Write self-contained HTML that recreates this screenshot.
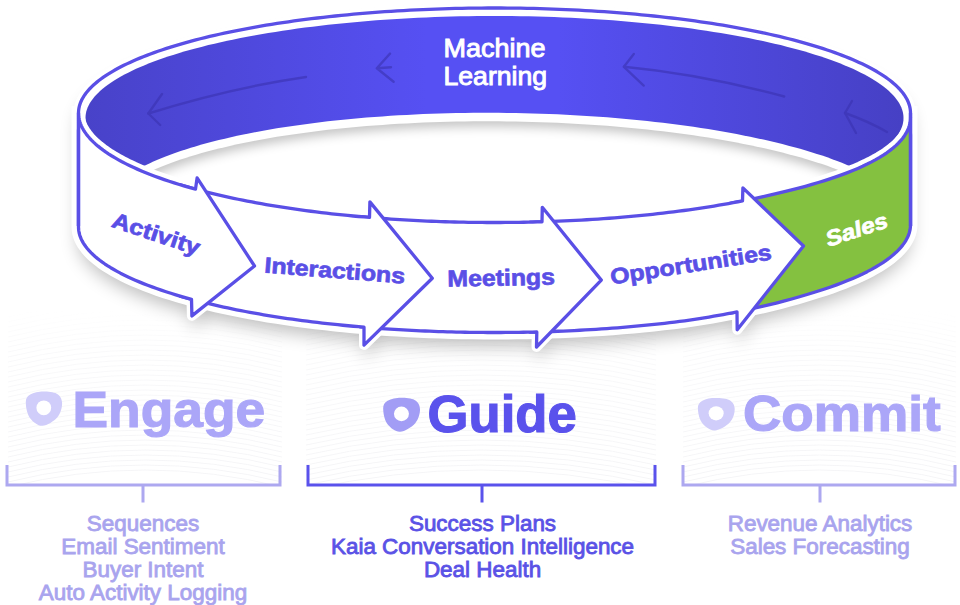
<!DOCTYPE html>
<html><head><meta charset="utf-8"><style>
html,body{margin:0;padding:0;background:#fff;width:960px;height:605px;overflow:hidden;position:relative}
</style></head><body>
<svg width="960" height="605" viewBox="0 0 960 605" style="position:absolute;left:0;top:0">
<defs>
 <linearGradient id="bg" x1="80" x2="905" y1="0" y2="0" gradientUnits="userSpaceOnUse">
  <stop offset="0" stop-color="#4842c8"/>
  <stop offset="0.42" stop-color="#5650f3"/>
  <stop offset="0.58" stop-color="#5650f3"/>
  <stop offset="1" stop-color="#4640c4"/>
 </linearGradient>
 <clipPath id="cin"><path d="M903.50,118.00 L903.41,120.14 L903.14,122.27 L902.69,124.40 L902.07,126.54 L901.26,128.66 L900.27,130.78 L899.11,132.90 L897.77,135.01 L896.26,137.11 L894.56,139.21 L892.69,141.29 L890.65,143.37 L888.43,145.43 L886.04,147.48 L883.48,149.52 L880.75,151.54 L877.85,153.55 L874.78,155.55 L871.54,157.53 L868.14,159.49 L864.57,161.43 L860.85,163.35 L856.96,165.26 L852.91,167.14 L848.70,169.00 L844.34,170.84 L839.83,172.65 L835.16,174.45 L830.35,176.21 L825.39,177.95 L820.28,179.67 L815.03,181.36 L809.64,183.02 L804.11,184.65 L798.45,186.25 L792.65,187.82 L786.72,189.37 L780.66,190.88 L774.48,192.35 L768.17,193.80 L761.75,195.21 L755.21,196.59 L748.55,197.94 L741.78,199.25 L734.90,200.52 L727.92,201.76 L720.84,202.96 L713.65,204.12 L706.37,205.25 L699.00,206.33 L691.54,207.38 L683.99,208.39 L676.36,209.36 L668.64,210.29 L660.86,211.18 L652.99,212.03 L645.06,212.84 L637.07,213.60 L629.01,214.33 L620.89,215.01 L612.71,215.65 L604.49,216.24 L596.21,216.80 L587.90,217.31 L579.54,217.77 L571.14,218.19 L562.71,218.57 L554.25,218.91 L545.76,219.20 L537.25,219.44 L528.72,219.64 L520.18,219.80 L511.63,219.91 L503.07,219.98 L494.50,220.00 L485.93,219.98 L477.37,219.91 L468.82,219.80 L460.28,219.64 L451.75,219.44 L443.24,219.20 L434.75,218.91 L426.29,218.57 L417.86,218.19 L409.46,217.77 L401.10,217.31 L392.79,216.80 L384.51,216.24 L376.29,215.65 L368.11,215.01 L359.99,214.33 L351.93,213.60 L343.94,212.84 L336.01,212.03 L328.14,211.18 L320.36,210.29 L312.64,209.36 L305.01,208.39 L297.46,207.38 L290.00,206.33 L282.63,205.25 L275.35,204.12 L268.16,202.96 L261.08,201.76 L254.10,200.52 L247.22,199.25 L240.45,197.94 L233.79,196.59 L227.25,195.21 L220.83,193.80 L214.52,192.35 L208.34,190.88 L202.28,189.37 L196.35,187.82 L190.55,186.25 L184.89,184.65 L179.36,183.02 L173.97,181.36 L168.72,179.67 L163.61,177.95 L158.65,176.21 L153.84,174.45 L149.17,172.65 L144.66,170.84 L140.30,169.00 L136.09,167.14 L132.04,165.26 L128.15,163.35 L124.43,161.43 L120.86,159.49 L117.46,157.53 L114.22,155.55 L111.15,153.55 L108.25,151.54 L105.52,149.52 L102.96,147.48 L100.57,145.43 L98.35,143.37 L96.31,141.29 L94.44,139.21 L92.74,137.11 L91.23,135.01 L89.89,132.90 L88.73,130.78 L87.74,128.66 L86.93,126.54 L86.31,124.40 L85.86,122.27 L85.59,120.14 L85.50,118.00 L85.59,115.86 L85.86,113.73 L86.31,111.60 L86.93,109.46 L87.74,107.34 L88.73,105.22 L89.89,103.10 L91.23,100.99 L92.74,98.89 L94.44,96.79 L96.31,94.71 L98.35,92.63 L100.57,90.57 L102.96,88.52 L105.52,86.48 L108.25,84.46 L111.15,82.45 L114.22,80.45 L117.46,78.47 L120.86,76.51 L124.43,74.57 L128.15,72.65 L132.04,70.74 L136.09,68.86 L140.30,67.00 L144.66,65.16 L149.17,63.35 L153.84,61.55 L158.65,59.79 L163.61,58.05 L168.72,56.33 L173.97,54.64 L179.36,52.98 L184.89,51.35 L190.55,49.75 L196.35,48.18 L202.28,46.63 L208.34,45.12 L214.52,43.65 L220.83,42.20 L227.25,40.79 L233.79,39.41 L240.45,38.06 L247.22,36.75 L254.10,35.48 L261.08,34.24 L268.16,33.04 L275.35,31.88 L282.63,30.75 L290.00,29.67 L297.46,28.62 L305.01,27.61 L312.64,26.64 L320.36,25.71 L328.14,24.82 L336.01,23.97 L343.94,23.16 L351.93,22.40 L359.99,21.67 L368.11,20.99 L376.29,20.35 L384.51,19.76 L392.79,19.20 L401.10,18.69 L409.46,18.23 L417.86,17.81 L426.29,17.43 L434.75,17.09 L443.24,16.80 L451.75,16.56 L460.28,16.36 L468.82,16.20 L477.37,16.09 L485.93,16.02 L494.50,16.00 L503.07,16.02 L511.63,16.09 L520.18,16.20 L528.72,16.36 L537.25,16.56 L545.76,16.80 L554.25,17.09 L562.71,17.43 L571.14,17.81 L579.54,18.23 L587.90,18.69 L596.21,19.20 L604.49,19.76 L612.71,20.35 L620.89,20.99 L629.01,21.67 L637.07,22.40 L645.06,23.16 L652.99,23.97 L660.86,24.82 L668.64,25.71 L676.36,26.64 L683.99,27.61 L691.54,28.62 L699.00,29.67 L706.37,30.75 L713.65,31.88 L720.84,33.04 L727.92,34.24 L734.90,35.48 L741.78,36.75 L748.55,38.06 L755.21,39.41 L761.75,40.79 L768.17,42.20 L774.48,43.65 L780.66,45.12 L786.72,46.63 L792.65,48.18 L798.45,49.75 L804.11,51.35 L809.64,52.98 L815.03,54.64 L820.28,56.33 L825.39,58.05 L830.35,59.79 L835.16,61.55 L839.83,63.35 L844.34,65.16 L848.70,67.00 L852.91,68.86 L856.96,70.74 L860.85,72.65 L864.57,74.57 L868.14,76.51 L871.54,78.47 L874.78,80.45 L877.85,82.45 L880.75,84.46 L883.48,86.48 L886.04,88.52 L888.43,90.57 L890.65,92.63 L892.69,94.71 L894.56,96.79 L896.26,98.89 L897.77,100.99 L899.11,103.10 L900.27,105.22 L901.26,107.34 L902.07,109.46 L902.69,111.60 L903.14,113.73 L903.41,115.86 L903.50,118.00 Z"/></clipPath>
 <clipPath id="cfl"><path d="M908.47,228.79 L908.35,230.93 L908.06,233.07 L907.59,235.21 L906.95,237.34 L906.13,239.47 L905.13,241.59 L903.96,243.70 L902.62,245.80 L901.10,247.89 L899.40,249.97 L897.54,252.04 L895.50,254.10 L893.29,256.14 L890.91,258.17 L888.36,260.19 L885.65,262.19 L882.77,264.17 L879.72,266.13 L876.51,268.08 L873.13,270.01 L869.60,271.91 L865.90,273.80 L862.05,275.66 L858.04,277.50 L853.87,279.32 L849.56,281.11 L845.09,282.88 L840.47,284.62 L835.71,286.34 L830.80,288.02 L825.75,289.68 L820.56,291.31 L815.23,292.91 L809.77,294.48 L804.17,296.02 L798.44,297.53 L792.58,299.01 L786.60,300.45 L780.49,301.86 L774.26,303.23 L767.92,304.57 L761.46,305.88 L754.88,307.14 L748.20,308.38 L741.42,309.57 L734.52,310.73 L727.53,311.85 L720.44,312.93 L713.26,313.97 L705.99,314.97 L698.62,315.93 L691.18,316.85 L683.65,317.73 L676.04,318.57 L668.36,319.37 L660.61,320.13 L652.79,320.84 L644.90,321.51 L636.96,322.14 L628.96,322.72 L620.90,323.26 L612.79,323.76 L604.64,324.22 L596.44,324.63 L588.20,324.99 L579.92,325.31 L571.62,325.59 L563.28,325.82 L554.92,326.01 L546.54,326.15 L538.14,326.25 L529.72,326.30 L521.30,326.31 L512.87,326.27 L504.43,326.19 L496.00,326.07 L487.57,325.89 L479.14,325.68 L470.73,325.42 L462.34,325.11 L453.96,324.76 L445.61,324.36 L437.28,323.93 L428.98,323.44 L420.72,322.92 L412.49,322.35 L404.31,321.73 L396.17,321.08 L388.07,320.38 L380.03,319.64 L372.04,318.86 L364.12,318.03 L356.25,317.16 L348.45,316.26 L340.72,315.31 L333.06,314.32 L325.48,313.29 L317.97,312.23 L310.55,311.12 L303.22,309.98 L295.97,308.80 L288.81,307.58 L281.75,306.32 L274.79,305.03 L267.93,303.70 L261.18,302.34 L254.53,300.94 L247.99,299.51 L241.56,298.05 L235.25,296.55 L229.06,295.02 L222.99,293.46 L217.04,291.87 L211.23,290.25 L205.54,288.60 L199.98,286.93 L194.55,285.22 L189.26,283.49 L184.12,281.73 L179.11,279.95 L174.24,278.14 L169.52,276.31 L164.95,274.45 L160.53,272.57 L156.26,270.67 L152.14,268.75 L148.18,266.81 L144.37,264.86 L140.72,262.88 L137.24,260.89 L133.91,258.88 L130.75,256.85 L127.75,254.81 L124.92,252.76 L122.25,250.69 L119.75,248.62 L117.43,246.53 L115.27,244.43 L113.28,242.32 L111.47,240.21 L109.83,238.08 L108.36,235.95 L107.07,233.82 L105.95,231.68 L105.00,229.54 L104.24,227.39 L103.65,225.25 L103.23,223.10 L102.99,220.95 L102.93,218.81 L103.05,216.67 L103.34,214.53 L103.81,212.39 L104.45,210.26 L105.27,208.13 L106.27,206.01 L107.44,203.90 L108.78,201.80 L110.30,199.71 L112.00,197.63 L113.86,195.56 L115.90,193.50 L118.11,191.46 L120.49,189.43 L123.04,187.41 L125.75,185.41 L128.63,183.43 L131.68,181.47 L134.89,179.52 L138.27,177.59 L141.80,175.69 L145.50,173.80 L149.35,171.94 L153.36,170.10 L157.53,168.28 L161.84,166.49 L166.31,164.72 L170.93,162.98 L175.69,161.26 L180.60,159.58 L185.65,157.92 L190.84,156.29 L196.17,154.69 L201.63,153.12 L207.23,151.58 L212.96,150.07 L218.82,148.59 L224.80,147.15 L230.91,145.74 L237.14,144.37 L243.48,143.03 L249.94,141.72 L256.52,140.46 L263.20,139.22 L269.98,138.03 L276.88,136.87 L283.87,135.75 L290.96,134.67 L298.14,133.63 L305.41,132.63 L312.78,131.67 L320.22,130.75 L327.75,129.87 L335.36,129.03 L343.04,128.23 L350.79,127.47 L358.61,126.76 L366.50,126.09 L374.44,125.46 L382.44,124.88 L390.50,124.34 L398.61,123.84 L406.76,123.38 L414.96,122.97 L423.20,122.61 L431.48,122.29 L439.78,122.01 L448.12,121.78 L456.48,121.59 L464.86,121.45 L473.26,121.35 L481.68,121.30 L490.10,121.29 L498.53,121.33 L506.97,121.41 L515.40,121.53 L523.83,121.71 L532.26,121.92 L540.67,122.18 L549.06,122.49 L557.44,122.84 L565.79,123.24 L574.12,123.67 L582.42,124.16 L590.68,124.68 L598.91,125.25 L607.09,125.87 L615.23,126.52 L623.33,127.22 L631.37,127.96 L639.36,128.74 L647.28,129.57 L655.15,130.44 L662.95,131.34 L670.68,132.29 L678.34,133.28 L685.92,134.31 L693.43,135.37 L700.85,136.48 L708.18,137.62 L715.43,138.80 L722.59,140.02 L729.65,141.28 L736.61,142.57 L743.47,143.90 L750.22,145.26 L756.87,146.66 L763.41,148.09 L769.84,149.55 L776.15,151.05 L782.34,152.58 L788.41,154.14 L794.36,155.73 L800.17,157.35 L805.86,159.00 L811.42,160.67 L816.85,162.38 L822.14,164.11 L827.28,165.87 L832.29,167.65 L837.16,169.46 L841.88,171.29 L846.45,173.15 L850.87,175.03 L855.14,176.93 L859.26,178.85 L863.22,180.79 L867.03,182.74 L870.68,184.72 L874.16,186.71 L877.49,188.72 L880.65,190.75 L883.65,192.79 L886.48,194.84 L889.15,196.91 L891.65,198.98 L893.97,201.07 L896.13,203.17 L898.12,205.28 L899.93,207.39 L901.57,209.52 L903.04,211.65 L904.33,213.78 L905.45,215.92 L906.40,218.06 L907.16,220.21 L907.75,222.35 L908.17,224.50 L908.41,226.65 L908.47,228.79 Z"/></clipPath>
 <filter id="blur9" x="-20%" y="-50%" width="140%" height="200%"><feGaussianBlur stdDeviation="9"/></filter>
 <filter id="blur7" x="-20%" y="-50%" width="140%" height="200%"><feGaussianBlur stdDeviation="7"/></filter>
 <filter id="blur6" x="-20%" y="-50%" width="140%" height="200%"><feGaussianBlur stdDeviation="6"/></filter>
 <filter id="blur5" x="-20%" y="-50%" width="140%" height="200%"><feGaussianBlur stdDeviation="5"/></filter>
 <filter id="blur4" x="-20%" y="-50%" width="140%" height="200%"><feGaussianBlur stdDeviation="4"/></filter>
 <filter id="blur3" x="-20%" y="-50%" width="140%" height="200%"><feGaussianBlur stdDeviation="3"/></filter>
</defs>
<defs><linearGradient id="pg" x1="0" x2="0" y1="310" y2="480" gradientUnits="userSpaceOnUse"><stop offset="0" stop-color="#fff" stop-opacity="0"/><stop offset="0.25" stop-color="#fff" stop-opacity="0.6"/><stop offset="1" stop-color="#fff" stop-opacity="1"/></linearGradient><mask id="pm" maskUnits="userSpaceOnUse" x="0" y="300" width="960" height="190"><rect x="0" y="300" width="960" height="184" fill="url(#pg)"/></mask></defs><g mask="url(#pm)"><g stroke="#f5f5f7" stroke-width="1" fill="none"><path d="M8,317.0 Q145.0,283.0 282,317.0"/><path d="M8,322.0 Q145.0,288.0 282,322.0"/><path d="M8,327.0 Q145.0,293.0 282,327.0"/><path d="M8,332.0 Q145.0,298.0 282,332.0"/><path d="M8,337.0 Q145.0,303.0 282,337.0"/><path d="M8,342.0 Q145.0,308.0 282,342.0"/><path d="M8,347.0 Q145.0,313.0 282,347.0"/><path d="M8,352.0 Q145.0,318.0 282,352.0"/><path d="M8,357.0 Q145.0,323.0 282,357.0"/><path d="M8,362.0 Q145.0,328.0 282,362.0"/><path d="M8,367.0 Q145.0,333.0 282,367.0"/><path d="M8,372.0 Q145.0,338.0 282,372.0"/><path d="M8,377.0 Q145.0,343.0 282,377.0"/><path d="M8,382.0 Q145.0,348.0 282,382.0"/><path d="M8,387.0 Q145.0,353.0 282,387.0"/><path d="M8,392.0 Q145.0,358.0 282,392.0"/><path d="M8,397.0 Q145.0,363.0 282,397.0"/><path d="M8,402.0 Q145.0,368.0 282,402.0"/><path d="M8,407.0 Q145.0,373.0 282,407.0"/><path d="M8,412.0 Q145.0,378.0 282,412.0"/><path d="M8,417.0 Q145.0,383.0 282,417.0"/><path d="M8,422.0 Q145.0,388.0 282,422.0"/><path d="M8,427.0 Q145.0,393.0 282,427.0"/><path d="M8,432.0 Q145.0,398.0 282,432.0"/><path d="M8,437.0 Q145.0,403.0 282,437.0"/><path d="M8,442.0 Q145.0,408.0 282,442.0"/><path d="M8,447.0 Q145.0,413.0 282,447.0"/><path d="M8,452.0 Q145.0,418.0 282,452.0"/><path d="M8,457.0 Q145.0,423.0 282,457.0"/><path d="M8,462.0 Q145.0,428.0 282,462.0"/><path d="M8,467.0 Q145.0,433.0 282,467.0"/><path d="M8,472.0 Q145.0,438.0 282,472.0"/><path d="M8,477.0 Q145.0,443.0 282,477.0"/><path d="M8,482.0 Q145.0,448.0 282,482.0"/><path d="M8,487.0 Q145.0,453.0 282,487.0"/></g><g stroke="#f5f5f7" stroke-width="1" fill="none"><path d="M306,320.0 Q481.0,280.0 656,320.0"/><path d="M306,325.0 Q481.0,285.0 656,325.0"/><path d="M306,330.0 Q481.0,290.0 656,330.0"/><path d="M306,335.0 Q481.0,295.0 656,335.0"/><path d="M306,340.0 Q481.0,300.0 656,340.0"/><path d="M306,345.0 Q481.0,305.0 656,345.0"/><path d="M306,350.0 Q481.0,310.0 656,350.0"/><path d="M306,355.0 Q481.0,315.0 656,355.0"/><path d="M306,360.0 Q481.0,320.0 656,360.0"/><path d="M306,365.0 Q481.0,325.0 656,365.0"/><path d="M306,370.0 Q481.0,330.0 656,370.0"/><path d="M306,375.0 Q481.0,335.0 656,375.0"/><path d="M306,380.0 Q481.0,340.0 656,380.0"/><path d="M306,385.0 Q481.0,345.0 656,385.0"/><path d="M306,390.0 Q481.0,350.0 656,390.0"/><path d="M306,395.0 Q481.0,355.0 656,395.0"/><path d="M306,400.0 Q481.0,360.0 656,400.0"/><path d="M306,405.0 Q481.0,365.0 656,405.0"/><path d="M306,410.0 Q481.0,370.0 656,410.0"/><path d="M306,415.0 Q481.0,375.0 656,415.0"/><path d="M306,420.0 Q481.0,380.0 656,420.0"/><path d="M306,425.0 Q481.0,385.0 656,425.0"/><path d="M306,430.0 Q481.0,390.0 656,430.0"/><path d="M306,435.0 Q481.0,395.0 656,435.0"/><path d="M306,440.0 Q481.0,400.0 656,440.0"/><path d="M306,445.0 Q481.0,405.0 656,445.0"/><path d="M306,450.0 Q481.0,410.0 656,450.0"/><path d="M306,455.0 Q481.0,415.0 656,455.0"/><path d="M306,460.0 Q481.0,420.0 656,460.0"/><path d="M306,465.0 Q481.0,425.0 656,465.0"/><path d="M306,470.0 Q481.0,430.0 656,470.0"/><path d="M306,475.0 Q481.0,435.0 656,475.0"/><path d="M306,480.0 Q481.0,440.0 656,480.0"/><path d="M306,485.0 Q481.0,445.0 656,485.0"/><path d="M306,490.0 Q481.0,450.0 656,490.0"/></g><g stroke="#f5f5f7" stroke-width="1" fill="none"><path d="M683,317.0 Q819.5,283.0 956,317.0"/><path d="M683,322.0 Q819.5,288.0 956,322.0"/><path d="M683,327.0 Q819.5,293.0 956,327.0"/><path d="M683,332.0 Q819.5,298.0 956,332.0"/><path d="M683,337.0 Q819.5,303.0 956,337.0"/><path d="M683,342.0 Q819.5,308.0 956,342.0"/><path d="M683,347.0 Q819.5,313.0 956,347.0"/><path d="M683,352.0 Q819.5,318.0 956,352.0"/><path d="M683,357.0 Q819.5,323.0 956,357.0"/><path d="M683,362.0 Q819.5,328.0 956,362.0"/><path d="M683,367.0 Q819.5,333.0 956,367.0"/><path d="M683,372.0 Q819.5,338.0 956,372.0"/><path d="M683,377.0 Q819.5,343.0 956,377.0"/><path d="M683,382.0 Q819.5,348.0 956,382.0"/><path d="M683,387.0 Q819.5,353.0 956,387.0"/><path d="M683,392.0 Q819.5,358.0 956,392.0"/><path d="M683,397.0 Q819.5,363.0 956,397.0"/><path d="M683,402.0 Q819.5,368.0 956,402.0"/><path d="M683,407.0 Q819.5,373.0 956,407.0"/><path d="M683,412.0 Q819.5,378.0 956,412.0"/><path d="M683,417.0 Q819.5,383.0 956,417.0"/><path d="M683,422.0 Q819.5,388.0 956,422.0"/><path d="M683,427.0 Q819.5,393.0 956,427.0"/><path d="M683,432.0 Q819.5,398.0 956,432.0"/><path d="M683,437.0 Q819.5,403.0 956,437.0"/><path d="M683,442.0 Q819.5,408.0 956,442.0"/><path d="M683,447.0 Q819.5,413.0 956,447.0"/><path d="M683,452.0 Q819.5,418.0 956,452.0"/><path d="M683,457.0 Q819.5,423.0 956,457.0"/><path d="M683,462.0 Q819.5,428.0 956,462.0"/><path d="M683,467.0 Q819.5,433.0 956,467.0"/><path d="M683,472.0 Q819.5,438.0 956,472.0"/><path d="M683,477.0 Q819.5,443.0 956,477.0"/><path d="M683,482.0 Q819.5,448.0 956,482.0"/><path d="M683,487.0 Q819.5,453.0 956,487.0"/></g></g><text id="t_Engage" transform="translate(72.5,426.7) scale(1.067,1)" font-family="Liberation Sans" font-weight="bold" font-size="50" fill="#aba6f8" stroke="#aba6f8" stroke-width="1.1">Engage</text><text id="t_Guide" transform="translate(427.5,432.2) scale(1.033,1)" font-family="Liberation Sans" font-weight="bold" font-size="51" fill="#5a52ec" stroke="#5a52ec" stroke-width="1.1">Guide</text><text id="t_Commit" transform="translate(743,431.3) scale(1.063,1)" font-family="Liberation Sans" font-weight="bold" font-size="50" fill="#aba6f8" stroke="#aba6f8" stroke-width="1.1">Commit</text><g transform="translate(25.9,391.7) scale(1.000,1.000)"><path d="M0.0,13.1 C-0.3,9.4 -0.1,6.6 2.2,4.4 C4.5,2.2 9.1,0.4 13.9,0.0 C18.7,-0.4 27.1,0.1 30.8,2.0 C34.5,3.9 36.1,7.6 36.2,11.5 C36.3,15.4 34.8,21.7 31.5,25.5 C28.2,29.3 21.1,33.9 16.5,34.1 C11.9,34.3 7.0,30.0 4.2,26.5 C1.5,23.0 0.3,16.8 0.0,13.1 Z" fill="#d0cdfa"/><circle cx="17.9" cy="16.1" r="7.4" fill="#fff"/></g><g transform="translate(383.3,397.9) scale(1.014,0.991)"><path d="M0.0,13.1 C-0.3,9.4 -0.1,6.6 2.2,4.4 C4.5,2.2 9.1,0.4 13.9,0.0 C18.7,-0.4 27.1,0.1 30.8,2.0 C34.5,3.9 36.1,7.6 36.2,11.5 C36.3,15.4 34.8,21.7 31.5,25.5 C28.2,29.3 21.1,33.9 16.5,34.1 C11.9,34.3 7.0,30.0 4.2,26.5 C1.5,23.0 0.3,16.8 0.0,13.1 Z" fill="#a29df5"/><circle cx="17.9" cy="16.1" r="7.4" fill="#fff"/></g><g transform="translate(698,398) scale(1.014,0.953)"><path d="M0.0,13.1 C-0.3,9.4 -0.1,6.6 2.2,4.4 C4.5,2.2 9.1,0.4 13.9,0.0 C18.7,-0.4 27.1,0.1 30.8,2.0 C34.5,3.9 36.1,7.6 36.2,11.5 C36.3,15.4 34.8,21.7 31.5,25.5 C28.2,29.3 21.1,33.9 16.5,34.1 C11.9,34.3 7.0,30.0 4.2,26.5 C1.5,23.0 0.3,16.8 0.0,13.1 Z" fill="#d0cdfa"/><circle cx="17.9" cy="16.1" r="7.4" fill="#fff"/></g><path d="M7,465 L7,485 L280,485 L280,465 M143,485 L143,502.5" fill="none" stroke="#ada8f0" stroke-width="3"/><path d="M308,465 L308,485 L655,485 L655,465 M482,485 L482,502.5" fill="none" stroke="#5a52ec" stroke-width="3"/><path d="M683,465 L683,485 L955,485 L955,465 M820,485 L820,502.5" fill="none" stroke="#ada8f0" stroke-width="3"/><text transform="translate(143,530.8) scale(1.02,1)" text-anchor="middle" font-family="Liberation Sans" font-size="22" fill="#a9a4ee" stroke="#a9a4ee" stroke-width="0.85">Sequences</text><text transform="translate(143,553.9) scale(1.02,1)" text-anchor="middle" font-family="Liberation Sans" font-size="22" fill="#a9a4ee" stroke="#a9a4ee" stroke-width="0.85">Email Sentiment</text><text transform="translate(143,577.0) scale(1.02,1)" text-anchor="middle" font-family="Liberation Sans" font-size="22" fill="#a9a4ee" stroke="#a9a4ee" stroke-width="0.85">Buyer Intent</text><text transform="translate(143,600.1) scale(1.02,1)" text-anchor="middle" font-family="Liberation Sans" font-size="22" fill="#a9a4ee" stroke="#a9a4ee" stroke-width="0.85">Auto Activity Logging</text><text transform="translate(482.5,530.8) scale(1.02,1)" text-anchor="middle" font-family="Liberation Sans" font-size="22" fill="#5a52e6" stroke="#5a52e6" stroke-width="0.85">Success Plans</text><text transform="translate(482.5,553.9) scale(1.02,1)" text-anchor="middle" font-family="Liberation Sans" font-size="22" fill="#5a52e6" stroke="#5a52e6" stroke-width="0.85">Kaia Conversation Intelligence</text><text transform="translate(482.5,577.0) scale(1.02,1)" text-anchor="middle" font-family="Liberation Sans" font-size="22" fill="#5a52e6" stroke="#5a52e6" stroke-width="0.85">Deal Health</text><text transform="translate(820,530.8) scale(1.02,1)" text-anchor="middle" font-family="Liberation Sans" font-size="22" fill="#a9a4ee" stroke="#a9a4ee" stroke-width="0.85">Revenue Analytics</text><text transform="translate(820,553.9) scale(1.02,1)" text-anchor="middle" font-family="Liberation Sans" font-size="22" fill="#a9a4ee" stroke="#a9a4ee" stroke-width="0.85">Sales Forecasting</text><g opacity="0.26" filter="url(#blur9)" transform="translate(0,13)"><path d="M78.50,113.00 L78.55,111.35 L78.71,109.70 L78.96,108.05 L79.32,106.41 L79.78,104.76 L80.35,103.12 L81.01,101.48 L81.78,99.84 L82.65,98.21 L83.62,96.57 L84.69,94.95 L85.87,93.32 L87.14,91.71 L88.52,90.09 L89.99,88.49 L91.57,86.89 L93.24,85.29 L95.02,83.71 L96.89,82.13 L98.86,80.55 L100.93,78.99 L103.09,77.43 L105.36,75.89 L107.71,74.35 L110.17,72.82 L112.71,71.30 L115.36,69.79 L118.09,68.29 L120.92,66.81 L123.84,65.33 L126.85,63.87 L129.96,62.42 L133.15,60.98 L136.43,59.55 L139.80,58.14 L143.26,56.74 L146.80,55.35 L150.43,53.98 L154.15,52.62 L157.95,51.28 L161.83,49.96 L165.80,48.64 L169.84,47.35 L173.97,46.07 L178.17,44.81 L182.45,43.56 L186.81,42.33 L191.25,41.12 L195.76,39.93 L200.34,38.75 L205.00,37.60 L209.73,36.46 L214.53,35.34 L219.39,34.24 L224.33,33.16 L229.33,32.10 L234.40,31.05 L239.53,30.03 L244.73,29.03 L249.98,28.05 L255.30,27.09 L260.67,26.16 L266.11,25.24 L271.60,24.35 L277.14,23.47 L282.74,22.62 L288.39,21.79 L294.09,20.99 L299.84,20.20 L305.64,19.44 L311.49,18.71 L317.38,17.99 L323.31,17.30 L329.29,16.64 L335.30,15.99 L341.36,15.37 L347.45,14.78 L353.59,14.21 L359.75,13.66 L365.95,13.14 L372.18,12.64 L378.44,12.17 L384.73,11.72 L391.05,11.30 L397.39,10.90 L403.75,10.53 L410.14,10.18 L416.55,9.86 L422.98,9.56 L429.42,9.29 L435.89,9.05 L442.36,8.83 L448.85,8.63 L455.35,8.47 L461.86,8.32 L468.38,8.21 L474.90,8.12 L481.43,8.05 L487.97,8.01 L494.50,8.00 L501.03,8.01 L507.57,8.05 L514.10,8.12 L520.62,8.21 L527.14,8.32 L533.65,8.47 L540.15,8.63 L546.64,8.83 L553.11,9.05 L559.58,9.29 L566.02,9.56 L572.45,9.86 L578.86,10.18 L585.25,10.53 L591.61,10.90 L597.95,11.30 L604.27,11.72 L610.56,12.17 L616.82,12.64 L623.05,13.14 L629.25,13.66 L635.41,14.21 L641.55,14.78 L647.64,15.37 L653.70,15.99 L659.71,16.64 L665.69,17.30 L671.62,17.99 L677.51,18.71 L683.36,19.44 L689.16,20.20 L694.91,20.99 L700.61,21.79 L706.26,22.62 L711.86,23.47 L717.40,24.35 L722.89,25.24 L728.33,26.16 L733.70,27.09 L739.02,28.05 L744.27,29.03 L749.47,30.03 L754.60,31.05 L759.67,32.10 L764.67,33.16 L769.61,34.24 L774.47,35.34 L779.27,36.46 L784.00,37.60 L788.66,38.75 L793.24,39.93 L797.75,41.12 L802.19,42.33 L806.55,43.56 L810.83,44.81 L815.03,46.07 L819.16,47.35 L823.20,48.64 L827.17,49.96 L831.05,51.28 L834.85,52.62 L838.57,53.98 L842.20,55.35 L845.74,56.74 L849.20,58.14 L852.57,59.55 L855.85,60.98 L859.04,62.42 L862.15,63.87 L865.16,65.33 L868.08,66.81 L870.91,68.29 L873.64,69.79 L876.29,71.30 L878.83,72.82 L881.29,74.35 L883.64,75.89 L885.91,77.43 L888.07,78.99 L890.14,80.55 L892.11,82.13 L893.98,83.71 L895.76,85.29 L897.43,86.89 L899.01,88.49 L900.48,90.09 L901.86,91.71 L903.13,93.32 L904.31,94.95 L905.38,96.57 L906.35,98.21 L907.22,99.84 L907.99,101.48 L908.65,103.12 L909.22,104.76 L909.68,106.41 L910.04,108.05 L910.29,109.70 L910.45,111.35 L910.50,113.00 Z" fill="#000"/><path d="M78.5,113 L910.5,113 L910.5,226 L910.50,224.80 L910.36,227.56 L909.93,230.32 L909.22,233.08 L908.22,235.83 L906.94,238.57 L905.38,241.30 L903.53,244.03 L901.41,246.73 L899.01,249.43 L896.33,252.11 L893.37,254.76 L890.14,257.40 L886.64,260.02 L882.87,262.61 L878.83,265.17 L874.53,267.71 L869.98,270.22 L865.16,272.70 L860.09,275.14 L854.77,277.55 L849.20,279.92 L843.39,282.26 L837.34,284.56 L831.05,286.81 L824.53,289.02 L817.79,291.19 L810.83,293.32 L803.65,295.51 L796.26,297.67 L788.66,299.79 L780.86,301.86 L772.86,303.88 L764.67,305.85 L756.30,307.77 L747.74,309.64 L739.02,311.45 L730.12,313.21 L721.07,314.91 L711.86,316.55 L702.50,318.14 L693.00,319.66 L683.36,321.00 L673.59,322.22 L663.70,323.38 L653.70,324.47 L643.58,325.49 L633.36,326.45 L623.05,327.34 L612.65,328.16 L602.17,328.91 L591.61,329.59 L580.99,330.19 L570.31,330.73 L559.58,331.20 L548.80,331.60 L537.98,331.92 L527.14,332.17 L516.27,332.36 L505.39,332.46 L494.50,332.50 L483.61,332.46 L472.73,332.36 L461.86,332.17 L451.02,331.92 L440.20,331.60 L429.42,331.20 L418.69,330.73 L408.01,330.19 L397.39,329.59 L386.83,328.91 L376.35,328.16 L365.95,327.34 L355.64,326.45 L345.42,325.49 L335.30,324.47 L325.30,323.38 L315.41,322.22 L305.64,321.00 L296.00,319.72 L286.50,318.37 L277.14,316.95 L267.93,315.48 L258.88,313.95 L249.98,312.35 L241.26,310.70 L232.70,308.99 L224.33,307.22 L216.14,305.40 L208.14,303.53 L200.34,301.60 L192.74,299.62 L185.35,297.59 L178.17,295.52 L171.21,293.39 L164.47,291.22 L157.95,289.01 L151.66,286.76 L145.61,284.46 L139.80,282.12 L134.23,279.75 L128.91,277.34 L123.84,274.90 L119.02,272.42 L114.47,269.91 L110.17,267.37 L106.13,264.81 L102.36,262.22 L98.86,259.60 L95.63,256.96 L92.67,254.31 L89.99,251.63 L87.59,248.93 L85.47,246.23 L83.62,243.50 L82.06,240.77 L80.78,238.03 L79.78,235.28 L79.07,232.52 L78.64,229.76 L78.50,227.00 Z" fill="#000"/><path d="M78.50,113.00 L78.58,115.10 L78.81,117.21 L79.19,119.31 L79.73,121.41 L80.42,123.51 L81.26,125.60 L82.26,127.69 L83.41,129.77 L84.71,131.85 L86.16,133.92 L87.76,135.98 L89.52,138.03 L91.42,140.08 L93.47,142.11 L95.67,144.13 L98.02,146.14 L100.51,148.14 L103.15,150.13 L105.93,152.10 L108.86,154.06 L111.93,156.01 L115.14,157.93 L118.49,159.84 L121.98,161.74 L125.61,163.61 L129.37,165.47 L133.27,167.31 L137.30,169.12 L141.46,170.92 L145.76,172.70 L150.18,174.45 L154.73,176.18 L159.41,177.89 L164.21,179.57 L169.13,181.23 L174.17,182.86 L179.33,184.47 L184.61,186.05 L190.00,187.61 L195.50,189.13 L197.1,177.9 L254.5,266.0 L191.9,315.9 L191.50,299.29 L186.18,297.82 L180.96,296.34 L175.86,294.82 L170.87,293.29 L165.99,291.73 L161.23,290.14 L156.60,288.54 L152.08,286.91 L147.68,285.26 L143.41,283.59 L139.26,281.90 L135.24,280.19 L131.34,278.46 L127.58,276.71 L123.95,274.95 L120.44,273.17 L117.08,271.37 L113.84,269.55 L110.74,267.72 L107.78,265.88 L104.96,264.02 L102.27,262.15 L99.73,260.27 L97.32,258.37 L95.06,256.47 L92.93,254.55 L90.96,252.62 L89.12,250.69 L87.43,248.74 L85.89,246.79 L84.49,244.83 L83.23,242.87 L82.12,240.90 L81.16,238.92 L80.35,236.94 L79.68,234.96 L79.17,232.97 L78.80,230.98 L78.57,228.99 L78.50,227.00 Z" fill="#000"/><path d="M180.00,184.67 L183.79,185.81 L187.63,186.93 L191.54,188.04 L195.50,189.13 L199.52,190.21 L203.60,191.28 L207.73,192.32 L211.92,193.36 L216.15,194.38 L220.45,195.38 L224.79,196.37 L229.19,197.34 L233.64,198.30 L238.13,199.24 L242.68,200.16 L247.27,201.06 L251.91,201.95 L256.60,202.83 L261.33,203.68 L266.11,204.52 L270.93,205.34 L275.79,206.15 L280.69,206.93 L285.64,207.70 L290.62,208.45 L295.64,209.18 L300.71,209.89 L305.80,210.59 L310.94,211.26 L316.11,211.92 L321.31,212.56 L326.55,213.18 L331.81,213.78 L337.11,214.36 L342.44,214.92 L347.80,215.47 L353.19,215.99 L358.60,216.49 L364.04,216.98 L369.50,217.44 L369.9,201.9 L432.3,278.2 L364.0,345.1 L364.00,327.17 L358.70,326.72 L353.42,326.25 L348.17,325.76 L342.94,325.25 L337.75,324.72 L332.58,324.18 L327.44,323.62 L322.33,323.04 L317.25,322.44 L312.20,321.83 L307.19,321.20 L302.21,320.55 L297.26,319.89 L292.35,319.21 L287.48,318.51 L282.65,317.79 L277.85,317.06 L273.09,316.32 L268.37,315.55 L263.70,314.77 L259.06,313.98 L254.47,313.17 L249.92,312.34 L245.42,311.50 L240.96,310.64 L236.54,309.77 L232.18,308.88 L227.86,307.98 L223.58,307.06 L219.36,306.13 L215.19,305.18 L211.07,304.22 L207.00,303.25 L202.98,302.26 L199.01,301.26 L195.10,300.25 L191.24,299.22 L187.44,298.18 L183.69,297.12 L180.00,296.06 Z" fill="#000"/><path d="M360.00,216.62 L364.37,217.01 L368.76,217.38 L373.17,217.74 L377.59,218.09 L382.03,218.42 L386.48,218.74 L390.94,219.05 L395.41,219.35 L399.90,219.63 L404.40,219.90 L408.91,220.16 L413.43,220.40 L417.96,220.63 L422.50,220.85 L427.05,221.05 L431.61,221.24 L436.17,221.42 L440.74,221.58 L445.32,221.73 L449.91,221.87 L454.50,221.99 L459.09,222.10 L463.69,222.20 L468.30,222.28 L472.90,222.35 L477.51,222.41 L482.12,222.45 L486.73,222.48 L491.35,222.50 L495.96,222.50 L500.58,222.49 L505.19,222.46 L509.80,222.43 L514.41,222.37 L519.02,222.31 L523.62,222.23 L528.22,222.14 L532.82,222.03 L537.41,221.92 L542.00,221.78 L542.3,207.3 L601.3,280.1 L536.5,347.0 L536.80,331.95 L532.34,332.06 L527.87,332.16 L523.40,332.25 L518.93,332.32 L514.45,332.38 L509.97,332.43 L505.49,332.46 L501.01,332.49 L496.52,332.50 L492.04,332.50 L487.56,332.49 L483.07,332.46 L478.59,332.42 L474.11,332.37 L469.64,332.31 L465.16,332.24 L460.69,332.15 L456.23,332.05 L451.77,331.94 L447.31,331.82 L442.86,331.68 L438.41,331.54 L433.97,331.38 L429.54,331.21 L425.12,331.02 L420.70,330.83 L416.29,330.62 L411.89,330.40 L407.50,330.17 L403.12,329.92 L398.76,329.67 L394.40,329.40 L390.05,329.12 L385.72,328.83 L381.40,328.53 L377.09,328.21 L372.80,327.88 L368.52,327.55 L364.25,327.20 L360.00,326.83 Z" fill="#000"/><path d="M530.00,222.10 L535.73,221.96 L541.45,221.80 L547.16,221.62 L552.87,221.42 L558.56,221.19 L564.24,220.95 L569.90,220.69 L575.55,220.40 L581.19,220.10 L586.81,219.77 L592.41,219.42 L597.99,219.06 L603.55,218.67 L609.10,218.26 L614.62,217.84 L620.11,217.39 L625.59,216.92 L631.04,216.43 L636.46,215.93 L641.85,215.40 L647.22,214.85 L652.56,214.29 L657.86,213.70 L663.14,213.10 L668.38,212.48 L673.59,211.83 L678.77,211.17 L683.91,210.49 L689.01,209.79 L694.08,209.07 L699.11,208.34 L704.10,207.59 L709.05,206.81 L713.96,206.02 L718.83,205.22 L723.65,204.39 L728.43,203.55 L733.17,202.69 L737.86,201.81 L742.50,200.91 L742.9,187.9 L803.5,246.0 L737.2,329.8 L737.00,311.86 L732.44,312.76 L727.84,313.65 L723.20,314.52 L718.51,315.37 L713.79,316.22 L709.02,317.04 L704.22,317.85 L699.38,318.65 L694.50,319.42 L689.59,320.18 L684.64,320.84 L679.65,321.47 L674.64,322.10 L669.59,322.70 L664.51,323.29 L659.40,323.86 L654.26,324.41 L649.09,324.95 L643.89,325.46 L638.66,325.96 L633.41,326.44 L628.14,326.91 L622.84,327.35 L617.51,327.78 L612.17,328.19 L606.80,328.58 L601.42,328.96 L596.01,329.31 L590.59,329.65 L585.15,329.96 L579.69,330.26 L574.22,330.54 L568.73,330.81 L563.23,331.05 L557.72,331.27 L552.19,331.48 L546.66,331.67 L541.11,331.84 L535.56,331.98 L530.00,332.12 Z" fill="#000"/></g><g opacity="0.0" filter="url(#blur4)" transform="translate(0,9)"><path d="M78.5,113 L910.5,113 L910.5,226 L910.50,224.80 L910.36,227.56 L909.93,230.32 L909.22,233.08 L908.22,235.83 L906.94,238.57 L905.38,241.30 L903.53,244.03 L901.41,246.73 L899.01,249.43 L896.33,252.11 L893.37,254.76 L890.14,257.40 L886.64,260.02 L882.87,262.61 L878.83,265.17 L874.53,267.71 L869.98,270.22 L865.16,272.70 L860.09,275.14 L854.77,277.55 L849.20,279.92 L843.39,282.26 L837.34,284.56 L831.05,286.81 L824.53,289.02 L817.79,291.19 L810.83,293.32 L803.65,295.51 L796.26,297.67 L788.66,299.79 L780.86,301.86 L772.86,303.88 L764.67,305.85 L756.30,307.77 L747.74,309.64 L739.02,311.45 L730.12,313.21 L721.07,314.91 L711.86,316.55 L702.50,318.14 L693.00,319.66 L683.36,321.00 L673.59,322.22 L663.70,323.38 L653.70,324.47 L643.58,325.49 L633.36,326.45 L623.05,327.34 L612.65,328.16 L602.17,328.91 L591.61,329.59 L580.99,330.19 L570.31,330.73 L559.58,331.20 L548.80,331.60 L537.98,331.92 L527.14,332.17 L516.27,332.36 L505.39,332.46 L494.50,332.50 L483.61,332.46 L472.73,332.36 L461.86,332.17 L451.02,331.92 L440.20,331.60 L429.42,331.20 L418.69,330.73 L408.01,330.19 L397.39,329.59 L386.83,328.91 L376.35,328.16 L365.95,327.34 L355.64,326.45 L345.42,325.49 L335.30,324.47 L325.30,323.38 L315.41,322.22 L305.64,321.00 L296.00,319.72 L286.50,318.37 L277.14,316.95 L267.93,315.48 L258.88,313.95 L249.98,312.35 L241.26,310.70 L232.70,308.99 L224.33,307.22 L216.14,305.40 L208.14,303.53 L200.34,301.60 L192.74,299.62 L185.35,297.59 L178.17,295.52 L171.21,293.39 L164.47,291.22 L157.95,289.01 L151.66,286.76 L145.61,284.46 L139.80,282.12 L134.23,279.75 L128.91,277.34 L123.84,274.90 L119.02,272.42 L114.47,269.91 L110.17,267.37 L106.13,264.81 L102.36,262.22 L98.86,259.60 L95.63,256.96 L92.67,254.31 L89.99,251.63 L87.59,248.93 L85.47,246.23 L83.62,243.50 L82.06,240.77 L80.78,238.03 L79.78,235.28 L79.07,232.52 L78.64,229.76 L78.50,227.00 Z" fill="#000"/><path d="M78.50,113.00 L78.58,115.10 L78.81,117.21 L79.19,119.31 L79.73,121.41 L80.42,123.51 L81.26,125.60 L82.26,127.69 L83.41,129.77 L84.71,131.85 L86.16,133.92 L87.76,135.98 L89.52,138.03 L91.42,140.08 L93.47,142.11 L95.67,144.13 L98.02,146.14 L100.51,148.14 L103.15,150.13 L105.93,152.10 L108.86,154.06 L111.93,156.01 L115.14,157.93 L118.49,159.84 L121.98,161.74 L125.61,163.61 L129.37,165.47 L133.27,167.31 L137.30,169.12 L141.46,170.92 L145.76,172.70 L150.18,174.45 L154.73,176.18 L159.41,177.89 L164.21,179.57 L169.13,181.23 L174.17,182.86 L179.33,184.47 L184.61,186.05 L190.00,187.61 L195.50,189.13 L197.1,177.9 L254.5,266.0 L191.9,315.9 L191.50,299.29 L186.18,297.82 L180.96,296.34 L175.86,294.82 L170.87,293.29 L165.99,291.73 L161.23,290.14 L156.60,288.54 L152.08,286.91 L147.68,285.26 L143.41,283.59 L139.26,281.90 L135.24,280.19 L131.34,278.46 L127.58,276.71 L123.95,274.95 L120.44,273.17 L117.08,271.37 L113.84,269.55 L110.74,267.72 L107.78,265.88 L104.96,264.02 L102.27,262.15 L99.73,260.27 L97.32,258.37 L95.06,256.47 L92.93,254.55 L90.96,252.62 L89.12,250.69 L87.43,248.74 L85.89,246.79 L84.49,244.83 L83.23,242.87 L82.12,240.90 L81.16,238.92 L80.35,236.94 L79.68,234.96 L79.17,232.97 L78.80,230.98 L78.57,228.99 L78.50,227.00 Z" fill="#000"/><path d="M180.00,184.67 L183.79,185.81 L187.63,186.93 L191.54,188.04 L195.50,189.13 L199.52,190.21 L203.60,191.28 L207.73,192.32 L211.92,193.36 L216.15,194.38 L220.45,195.38 L224.79,196.37 L229.19,197.34 L233.64,198.30 L238.13,199.24 L242.68,200.16 L247.27,201.06 L251.91,201.95 L256.60,202.83 L261.33,203.68 L266.11,204.52 L270.93,205.34 L275.79,206.15 L280.69,206.93 L285.64,207.70 L290.62,208.45 L295.64,209.18 L300.71,209.89 L305.80,210.59 L310.94,211.26 L316.11,211.92 L321.31,212.56 L326.55,213.18 L331.81,213.78 L337.11,214.36 L342.44,214.92 L347.80,215.47 L353.19,215.99 L358.60,216.49 L364.04,216.98 L369.50,217.44 L369.9,201.9 L432.3,278.2 L364.0,345.1 L364.00,327.17 L358.70,326.72 L353.42,326.25 L348.17,325.76 L342.94,325.25 L337.75,324.72 L332.58,324.18 L327.44,323.62 L322.33,323.04 L317.25,322.44 L312.20,321.83 L307.19,321.20 L302.21,320.55 L297.26,319.89 L292.35,319.21 L287.48,318.51 L282.65,317.79 L277.85,317.06 L273.09,316.32 L268.37,315.55 L263.70,314.77 L259.06,313.98 L254.47,313.17 L249.92,312.34 L245.42,311.50 L240.96,310.64 L236.54,309.77 L232.18,308.88 L227.86,307.98 L223.58,307.06 L219.36,306.13 L215.19,305.18 L211.07,304.22 L207.00,303.25 L202.98,302.26 L199.01,301.26 L195.10,300.25 L191.24,299.22 L187.44,298.18 L183.69,297.12 L180.00,296.06 Z" fill="#000"/><path d="M360.00,216.62 L364.37,217.01 L368.76,217.38 L373.17,217.74 L377.59,218.09 L382.03,218.42 L386.48,218.74 L390.94,219.05 L395.41,219.35 L399.90,219.63 L404.40,219.90 L408.91,220.16 L413.43,220.40 L417.96,220.63 L422.50,220.85 L427.05,221.05 L431.61,221.24 L436.17,221.42 L440.74,221.58 L445.32,221.73 L449.91,221.87 L454.50,221.99 L459.09,222.10 L463.69,222.20 L468.30,222.28 L472.90,222.35 L477.51,222.41 L482.12,222.45 L486.73,222.48 L491.35,222.50 L495.96,222.50 L500.58,222.49 L505.19,222.46 L509.80,222.43 L514.41,222.37 L519.02,222.31 L523.62,222.23 L528.22,222.14 L532.82,222.03 L537.41,221.92 L542.00,221.78 L542.3,207.3 L601.3,280.1 L536.5,347.0 L536.80,331.95 L532.34,332.06 L527.87,332.16 L523.40,332.25 L518.93,332.32 L514.45,332.38 L509.97,332.43 L505.49,332.46 L501.01,332.49 L496.52,332.50 L492.04,332.50 L487.56,332.49 L483.07,332.46 L478.59,332.42 L474.11,332.37 L469.64,332.31 L465.16,332.24 L460.69,332.15 L456.23,332.05 L451.77,331.94 L447.31,331.82 L442.86,331.68 L438.41,331.54 L433.97,331.38 L429.54,331.21 L425.12,331.02 L420.70,330.83 L416.29,330.62 L411.89,330.40 L407.50,330.17 L403.12,329.92 L398.76,329.67 L394.40,329.40 L390.05,329.12 L385.72,328.83 L381.40,328.53 L377.09,328.21 L372.80,327.88 L368.52,327.55 L364.25,327.20 L360.00,326.83 Z" fill="#000"/><path d="M530.00,222.10 L535.73,221.96 L541.45,221.80 L547.16,221.62 L552.87,221.42 L558.56,221.19 L564.24,220.95 L569.90,220.69 L575.55,220.40 L581.19,220.10 L586.81,219.77 L592.41,219.42 L597.99,219.06 L603.55,218.67 L609.10,218.26 L614.62,217.84 L620.11,217.39 L625.59,216.92 L631.04,216.43 L636.46,215.93 L641.85,215.40 L647.22,214.85 L652.56,214.29 L657.86,213.70 L663.14,213.10 L668.38,212.48 L673.59,211.83 L678.77,211.17 L683.91,210.49 L689.01,209.79 L694.08,209.07 L699.11,208.34 L704.10,207.59 L709.05,206.81 L713.96,206.02 L718.83,205.22 L723.65,204.39 L728.43,203.55 L733.17,202.69 L737.86,201.81 L742.50,200.91 L742.9,187.9 L803.5,246.0 L737.2,329.8 L737.00,311.86 L732.44,312.76 L727.84,313.65 L723.20,314.52 L718.51,315.37 L713.79,316.22 L709.02,317.04 L704.22,317.85 L699.38,318.65 L694.50,319.42 L689.59,320.18 L684.64,320.84 L679.65,321.47 L674.64,322.10 L669.59,322.70 L664.51,323.29 L659.40,323.86 L654.26,324.41 L649.09,324.95 L643.89,325.46 L638.66,325.96 L633.41,326.44 L628.14,326.91 L622.84,327.35 L617.51,327.78 L612.17,328.19 L606.80,328.58 L601.42,328.96 L596.01,329.31 L590.59,329.65 L585.15,329.96 L579.69,330.26 L574.22,330.54 L568.73,330.81 L563.23,331.05 L557.72,331.27 L552.19,331.48 L546.66,331.67 L541.11,331.84 L535.56,331.98 L530.00,332.12 Z" fill="#000"/></g><path d="M78.50,113.00 L78.55,111.35 L78.71,109.70 L78.96,108.05 L79.32,106.41 L79.78,104.76 L80.35,103.12 L81.01,101.48 L81.78,99.84 L82.65,98.21 L83.62,96.57 L84.69,94.95 L85.87,93.32 L87.14,91.71 L88.52,90.09 L89.99,88.49 L91.57,86.89 L93.24,85.29 L95.02,83.71 L96.89,82.13 L98.86,80.55 L100.93,78.99 L103.09,77.43 L105.36,75.89 L107.71,74.35 L110.17,72.82 L112.71,71.30 L115.36,69.79 L118.09,68.29 L120.92,66.81 L123.84,65.33 L126.85,63.87 L129.96,62.42 L133.15,60.98 L136.43,59.55 L139.80,58.14 L143.26,56.74 L146.80,55.35 L150.43,53.98 L154.15,52.62 L157.95,51.28 L161.83,49.96 L165.80,48.64 L169.84,47.35 L173.97,46.07 L178.17,44.81 L182.45,43.56 L186.81,42.33 L191.25,41.12 L195.76,39.93 L200.34,38.75 L205.00,37.60 L209.73,36.46 L214.53,35.34 L219.39,34.24 L224.33,33.16 L229.33,32.10 L234.40,31.05 L239.53,30.03 L244.73,29.03 L249.98,28.05 L255.30,27.09 L260.67,26.16 L266.11,25.24 L271.60,24.35 L277.14,23.47 L282.74,22.62 L288.39,21.79 L294.09,20.99 L299.84,20.20 L305.64,19.44 L311.49,18.71 L317.38,17.99 L323.31,17.30 L329.29,16.64 L335.30,15.99 L341.36,15.37 L347.45,14.78 L353.59,14.21 L359.75,13.66 L365.95,13.14 L372.18,12.64 L378.44,12.17 L384.73,11.72 L391.05,11.30 L397.39,10.90 L403.75,10.53 L410.14,10.18 L416.55,9.86 L422.98,9.56 L429.42,9.29 L435.89,9.05 L442.36,8.83 L448.85,8.63 L455.35,8.47 L461.86,8.32 L468.38,8.21 L474.90,8.12 L481.43,8.05 L487.97,8.01 L494.50,8.00 L501.03,8.01 L507.57,8.05 L514.10,8.12 L520.62,8.21 L527.14,8.32 L533.65,8.47 L540.15,8.63 L546.64,8.83 L553.11,9.05 L559.58,9.29 L566.02,9.56 L572.45,9.86 L578.86,10.18 L585.25,10.53 L591.61,10.90 L597.95,11.30 L604.27,11.72 L610.56,12.17 L616.82,12.64 L623.05,13.14 L629.25,13.66 L635.41,14.21 L641.55,14.78 L647.64,15.37 L653.70,15.99 L659.71,16.64 L665.69,17.30 L671.62,17.99 L677.51,18.71 L683.36,19.44 L689.16,20.20 L694.91,20.99 L700.61,21.79 L706.26,22.62 L711.86,23.47 L717.40,24.35 L722.89,25.24 L728.33,26.16 L733.70,27.09 L739.02,28.05 L744.27,29.03 L749.47,30.03 L754.60,31.05 L759.67,32.10 L764.67,33.16 L769.61,34.24 L774.47,35.34 L779.27,36.46 L784.00,37.60 L788.66,38.75 L793.24,39.93 L797.75,41.12 L802.19,42.33 L806.55,43.56 L810.83,44.81 L815.03,46.07 L819.16,47.35 L823.20,48.64 L827.17,49.96 L831.05,51.28 L834.85,52.62 L838.57,53.98 L842.20,55.35 L845.74,56.74 L849.20,58.14 L852.57,59.55 L855.85,60.98 L859.04,62.42 L862.15,63.87 L865.16,65.33 L868.08,66.81 L870.91,68.29 L873.64,69.79 L876.29,71.30 L878.83,72.82 L881.29,74.35 L883.64,75.89 L885.91,77.43 L888.07,78.99 L890.14,80.55 L892.11,82.13 L893.98,83.71 L895.76,85.29 L897.43,86.89 L899.01,88.49 L900.48,90.09 L901.86,91.71 L903.13,93.32 L904.31,94.95 L905.38,96.57 L906.35,98.21 L907.22,99.84 L907.99,101.48 L908.65,103.12 L909.22,104.76 L909.68,106.41 L910.04,108.05 L910.29,109.70 L910.45,111.35 L910.50,113.00 L910.5,226 L78.5,226 Z" fill="#fff" stroke="#fff" stroke-width="10"/><path d="M78.5,113 L910.5,113 L910.5,226 L910.50,224.80 L910.36,227.56 L909.93,230.32 L909.22,233.08 L908.22,235.83 L906.94,238.57 L905.38,241.30 L903.53,244.03 L901.41,246.73 L899.01,249.43 L896.33,252.11 L893.37,254.76 L890.14,257.40 L886.64,260.02 L882.87,262.61 L878.83,265.17 L874.53,267.71 L869.98,270.22 L865.16,272.70 L860.09,275.14 L854.77,277.55 L849.20,279.92 L843.39,282.26 L837.34,284.56 L831.05,286.81 L824.53,289.02 L817.79,291.19 L810.83,293.32 L803.65,295.51 L796.26,297.67 L788.66,299.79 L780.86,301.86 L772.86,303.88 L764.67,305.85 L756.30,307.77 L747.74,309.64 L739.02,311.45 L730.12,313.21 L721.07,314.91 L711.86,316.55 L702.50,318.14 L693.00,319.66 L683.36,321.00 L673.59,322.22 L663.70,323.38 L653.70,324.47 L643.58,325.49 L633.36,326.45 L623.05,327.34 L612.65,328.16 L602.17,328.91 L591.61,329.59 L580.99,330.19 L570.31,330.73 L559.58,331.20 L548.80,331.60 L537.98,331.92 L527.14,332.17 L516.27,332.36 L505.39,332.46 L494.50,332.50 L483.61,332.46 L472.73,332.36 L461.86,332.17 L451.02,331.92 L440.20,331.60 L429.42,331.20 L418.69,330.73 L408.01,330.19 L397.39,329.59 L386.83,328.91 L376.35,328.16 L365.95,327.34 L355.64,326.45 L345.42,325.49 L335.30,324.47 L325.30,323.38 L315.41,322.22 L305.64,321.00 L296.00,319.72 L286.50,318.37 L277.14,316.95 L267.93,315.48 L258.88,313.95 L249.98,312.35 L241.26,310.70 L232.70,308.99 L224.33,307.22 L216.14,305.40 L208.14,303.53 L200.34,301.60 L192.74,299.62 L185.35,297.59 L178.17,295.52 L171.21,293.39 L164.47,291.22 L157.95,289.01 L151.66,286.76 L145.61,284.46 L139.80,282.12 L134.23,279.75 L128.91,277.34 L123.84,274.90 L119.02,272.42 L114.47,269.91 L110.17,267.37 L106.13,264.81 L102.36,262.22 L98.86,259.60 L95.63,256.96 L92.67,254.31 L89.99,251.63 L87.59,248.93 L85.47,246.23 L83.62,243.50 L82.06,240.77 L80.78,238.03 L79.78,235.28 L79.07,232.52 L78.64,229.76 L78.50,227.00 Z" fill="#fff" stroke="#fff" stroke-width="14"/><path d="M78.50,113.00 L78.58,115.10 L78.81,117.21 L79.19,119.31 L79.73,121.41 L80.42,123.51 L81.26,125.60 L82.26,127.69 L83.41,129.77 L84.71,131.85 L86.16,133.92 L87.76,135.98 L89.52,138.03 L91.42,140.08 L93.47,142.11 L95.67,144.13 L98.02,146.14 L100.51,148.14 L103.15,150.13 L105.93,152.10 L108.86,154.06 L111.93,156.01 L115.14,157.93 L118.49,159.84 L121.98,161.74 L125.61,163.61 L129.37,165.47 L133.27,167.31 L137.30,169.12 L141.46,170.92 L145.76,172.70 L150.18,174.45 L154.73,176.18 L159.41,177.89 L164.21,179.57 L169.13,181.23 L174.17,182.86 L179.33,184.47 L184.61,186.05 L190.00,187.61 L195.50,189.13 L197.1,177.9 L254.5,266.0 L191.9,315.9 L191.50,299.29 L186.18,297.82 L180.96,296.34 L175.86,294.82 L170.87,293.29 L165.99,291.73 L161.23,290.14 L156.60,288.54 L152.08,286.91 L147.68,285.26 L143.41,283.59 L139.26,281.90 L135.24,280.19 L131.34,278.46 L127.58,276.71 L123.95,274.95 L120.44,273.17 L117.08,271.37 L113.84,269.55 L110.74,267.72 L107.78,265.88 L104.96,264.02 L102.27,262.15 L99.73,260.27 L97.32,258.37 L95.06,256.47 L92.93,254.55 L90.96,252.62 L89.12,250.69 L87.43,248.74 L85.89,246.79 L84.49,244.83 L83.23,242.87 L82.12,240.90 L81.16,238.92 L80.35,236.94 L79.68,234.96 L79.17,232.97 L78.80,230.98 L78.57,228.99 L78.50,227.00 Z" fill="#fff" stroke="#fff" stroke-width="10" stroke-linejoin="round"/><path d="M180.00,184.67 L183.79,185.81 L187.63,186.93 L191.54,188.04 L195.50,189.13 L199.52,190.21 L203.60,191.28 L207.73,192.32 L211.92,193.36 L216.15,194.38 L220.45,195.38 L224.79,196.37 L229.19,197.34 L233.64,198.30 L238.13,199.24 L242.68,200.16 L247.27,201.06 L251.91,201.95 L256.60,202.83 L261.33,203.68 L266.11,204.52 L270.93,205.34 L275.79,206.15 L280.69,206.93 L285.64,207.70 L290.62,208.45 L295.64,209.18 L300.71,209.89 L305.80,210.59 L310.94,211.26 L316.11,211.92 L321.31,212.56 L326.55,213.18 L331.81,213.78 L337.11,214.36 L342.44,214.92 L347.80,215.47 L353.19,215.99 L358.60,216.49 L364.04,216.98 L369.50,217.44 L369.9,201.9 L432.3,278.2 L364.0,345.1 L364.00,327.17 L358.70,326.72 L353.42,326.25 L348.17,325.76 L342.94,325.25 L337.75,324.72 L332.58,324.18 L327.44,323.62 L322.33,323.04 L317.25,322.44 L312.20,321.83 L307.19,321.20 L302.21,320.55 L297.26,319.89 L292.35,319.21 L287.48,318.51 L282.65,317.79 L277.85,317.06 L273.09,316.32 L268.37,315.55 L263.70,314.77 L259.06,313.98 L254.47,313.17 L249.92,312.34 L245.42,311.50 L240.96,310.64 L236.54,309.77 L232.18,308.88 L227.86,307.98 L223.58,307.06 L219.36,306.13 L215.19,305.18 L211.07,304.22 L207.00,303.25 L202.98,302.26 L199.01,301.26 L195.10,300.25 L191.24,299.22 L187.44,298.18 L183.69,297.12 L180.00,296.06 Z" fill="#fff" stroke="#fff" stroke-width="10" stroke-linejoin="round"/><path d="M360.00,216.62 L364.37,217.01 L368.76,217.38 L373.17,217.74 L377.59,218.09 L382.03,218.42 L386.48,218.74 L390.94,219.05 L395.41,219.35 L399.90,219.63 L404.40,219.90 L408.91,220.16 L413.43,220.40 L417.96,220.63 L422.50,220.85 L427.05,221.05 L431.61,221.24 L436.17,221.42 L440.74,221.58 L445.32,221.73 L449.91,221.87 L454.50,221.99 L459.09,222.10 L463.69,222.20 L468.30,222.28 L472.90,222.35 L477.51,222.41 L482.12,222.45 L486.73,222.48 L491.35,222.50 L495.96,222.50 L500.58,222.49 L505.19,222.46 L509.80,222.43 L514.41,222.37 L519.02,222.31 L523.62,222.23 L528.22,222.14 L532.82,222.03 L537.41,221.92 L542.00,221.78 L542.3,207.3 L601.3,280.1 L536.5,347.0 L536.80,331.95 L532.34,332.06 L527.87,332.16 L523.40,332.25 L518.93,332.32 L514.45,332.38 L509.97,332.43 L505.49,332.46 L501.01,332.49 L496.52,332.50 L492.04,332.50 L487.56,332.49 L483.07,332.46 L478.59,332.42 L474.11,332.37 L469.64,332.31 L465.16,332.24 L460.69,332.15 L456.23,332.05 L451.77,331.94 L447.31,331.82 L442.86,331.68 L438.41,331.54 L433.97,331.38 L429.54,331.21 L425.12,331.02 L420.70,330.83 L416.29,330.62 L411.89,330.40 L407.50,330.17 L403.12,329.92 L398.76,329.67 L394.40,329.40 L390.05,329.12 L385.72,328.83 L381.40,328.53 L377.09,328.21 L372.80,327.88 L368.52,327.55 L364.25,327.20 L360.00,326.83 Z" fill="#fff" stroke="#fff" stroke-width="10" stroke-linejoin="round"/><path d="M530.00,222.10 L535.73,221.96 L541.45,221.80 L547.16,221.62 L552.87,221.42 L558.56,221.19 L564.24,220.95 L569.90,220.69 L575.55,220.40 L581.19,220.10 L586.81,219.77 L592.41,219.42 L597.99,219.06 L603.55,218.67 L609.10,218.26 L614.62,217.84 L620.11,217.39 L625.59,216.92 L631.04,216.43 L636.46,215.93 L641.85,215.40 L647.22,214.85 L652.56,214.29 L657.86,213.70 L663.14,213.10 L668.38,212.48 L673.59,211.83 L678.77,211.17 L683.91,210.49 L689.01,209.79 L694.08,209.07 L699.11,208.34 L704.10,207.59 L709.05,206.81 L713.96,206.02 L718.83,205.22 L723.65,204.39 L728.43,203.55 L733.17,202.69 L737.86,201.81 L742.50,200.91 L742.9,187.9 L803.5,246.0 L737.2,329.8 L737.00,311.86 L732.44,312.76 L727.84,313.65 L723.20,314.52 L718.51,315.37 L713.79,316.22 L709.02,317.04 L704.22,317.85 L699.38,318.65 L694.50,319.42 L689.59,320.18 L684.64,320.84 L679.65,321.47 L674.64,322.10 L669.59,322.70 L664.51,323.29 L659.40,323.86 L654.26,324.41 L649.09,324.95 L643.89,325.46 L638.66,325.96 L633.41,326.44 L628.14,326.91 L622.84,327.35 L617.51,327.78 L612.17,328.19 L606.80,328.58 L601.42,328.96 L596.01,329.31 L590.59,329.65 L585.15,329.96 L579.69,330.26 L574.22,330.54 L568.73,330.81 L563.23,331.05 L557.72,331.27 L552.19,331.48 L546.66,331.67 L541.11,331.84 L535.56,331.98 L530.00,332.12 Z" fill="#fff" stroke="#fff" stroke-width="10" stroke-linejoin="round"/><path d="M903.50,118.00 L903.41,120.14 L903.14,122.27 L902.69,124.40 L902.07,126.54 L901.26,128.66 L900.27,130.78 L899.11,132.90 L897.77,135.01 L896.26,137.11 L894.56,139.21 L892.69,141.29 L890.65,143.37 L888.43,145.43 L886.04,147.48 L883.48,149.52 L880.75,151.54 L877.85,153.55 L874.78,155.55 L871.54,157.53 L868.14,159.49 L864.57,161.43 L860.85,163.35 L856.96,165.26 L852.91,167.14 L848.70,169.00 L844.34,170.84 L839.83,172.65 L835.16,174.45 L830.35,176.21 L825.39,177.95 L820.28,179.67 L815.03,181.36 L809.64,183.02 L804.11,184.65 L798.45,186.25 L792.65,187.82 L786.72,189.37 L780.66,190.88 L774.48,192.35 L768.17,193.80 L761.75,195.21 L755.21,196.59 L748.55,197.94 L741.78,199.25 L734.90,200.52 L727.92,201.76 L720.84,202.96 L713.65,204.12 L706.37,205.25 L699.00,206.33 L691.54,207.38 L683.99,208.39 L676.36,209.36 L668.64,210.29 L660.86,211.18 L652.99,212.03 L645.06,212.84 L637.07,213.60 L629.01,214.33 L620.89,215.01 L612.71,215.65 L604.49,216.24 L596.21,216.80 L587.90,217.31 L579.54,217.77 L571.14,218.19 L562.71,218.57 L554.25,218.91 L545.76,219.20 L537.25,219.44 L528.72,219.64 L520.18,219.80 L511.63,219.91 L503.07,219.98 L494.50,220.00 L485.93,219.98 L477.37,219.91 L468.82,219.80 L460.28,219.64 L451.75,219.44 L443.24,219.20 L434.75,218.91 L426.29,218.57 L417.86,218.19 L409.46,217.77 L401.10,217.31 L392.79,216.80 L384.51,216.24 L376.29,215.65 L368.11,215.01 L359.99,214.33 L351.93,213.60 L343.94,212.84 L336.01,212.03 L328.14,211.18 L320.36,210.29 L312.64,209.36 L305.01,208.39 L297.46,207.38 L290.00,206.33 L282.63,205.25 L275.35,204.12 L268.16,202.96 L261.08,201.76 L254.10,200.52 L247.22,199.25 L240.45,197.94 L233.79,196.59 L227.25,195.21 L220.83,193.80 L214.52,192.35 L208.34,190.88 L202.28,189.37 L196.35,187.82 L190.55,186.25 L184.89,184.65 L179.36,183.02 L173.97,181.36 L168.72,179.67 L163.61,177.95 L158.65,176.21 L153.84,174.45 L149.17,172.65 L144.66,170.84 L140.30,169.00 L136.09,167.14 L132.04,165.26 L128.15,163.35 L124.43,161.43 L120.86,159.49 L117.46,157.53 L114.22,155.55 L111.15,153.55 L108.25,151.54 L105.52,149.52 L102.96,147.48 L100.57,145.43 L98.35,143.37 L96.31,141.29 L94.44,139.21 L92.74,137.11 L91.23,135.01 L89.89,132.90 L88.73,130.78 L87.74,128.66 L86.93,126.54 L86.31,124.40 L85.86,122.27 L85.59,120.14 L85.50,118.00 L85.59,115.86 L85.86,113.73 L86.31,111.60 L86.93,109.46 L87.74,107.34 L88.73,105.22 L89.89,103.10 L91.23,100.99 L92.74,98.89 L94.44,96.79 L96.31,94.71 L98.35,92.63 L100.57,90.57 L102.96,88.52 L105.52,86.48 L108.25,84.46 L111.15,82.45 L114.22,80.45 L117.46,78.47 L120.86,76.51 L124.43,74.57 L128.15,72.65 L132.04,70.74 L136.09,68.86 L140.30,67.00 L144.66,65.16 L149.17,63.35 L153.84,61.55 L158.65,59.79 L163.61,58.05 L168.72,56.33 L173.97,54.64 L179.36,52.98 L184.89,51.35 L190.55,49.75 L196.35,48.18 L202.28,46.63 L208.34,45.12 L214.52,43.65 L220.83,42.20 L227.25,40.79 L233.79,39.41 L240.45,38.06 L247.22,36.75 L254.10,35.48 L261.08,34.24 L268.16,33.04 L275.35,31.88 L282.63,30.75 L290.00,29.67 L297.46,28.62 L305.01,27.61 L312.64,26.64 L320.36,25.71 L328.14,24.82 L336.01,23.97 L343.94,23.16 L351.93,22.40 L359.99,21.67 L368.11,20.99 L376.29,20.35 L384.51,19.76 L392.79,19.20 L401.10,18.69 L409.46,18.23 L417.86,17.81 L426.29,17.43 L434.75,17.09 L443.24,16.80 L451.75,16.56 L460.28,16.36 L468.82,16.20 L477.37,16.09 L485.93,16.02 L494.50,16.00 L503.07,16.02 L511.63,16.09 L520.18,16.20 L528.72,16.36 L537.25,16.56 L545.76,16.80 L554.25,17.09 L562.71,17.43 L571.14,17.81 L579.54,18.23 L587.90,18.69 L596.21,19.20 L604.49,19.76 L612.71,20.35 L620.89,20.99 L629.01,21.67 L637.07,22.40 L645.06,23.16 L652.99,23.97 L660.86,24.82 L668.64,25.71 L676.36,26.64 L683.99,27.61 L691.54,28.62 L699.00,29.67 L706.37,30.75 L713.65,31.88 L720.84,33.04 L727.92,34.24 L734.90,35.48 L741.78,36.75 L748.55,38.06 L755.21,39.41 L761.75,40.79 L768.17,42.20 L774.48,43.65 L780.66,45.12 L786.72,46.63 L792.65,48.18 L798.45,49.75 L804.11,51.35 L809.64,52.98 L815.03,54.64 L820.28,56.33 L825.39,58.05 L830.35,59.79 L835.16,61.55 L839.83,63.35 L844.34,65.16 L848.70,67.00 L852.91,68.86 L856.96,70.74 L860.85,72.65 L864.57,74.57 L868.14,76.51 L871.54,78.47 L874.78,80.45 L877.85,82.45 L880.75,84.46 L883.48,86.48 L886.04,88.52 L888.43,90.57 L890.65,92.63 L892.69,94.71 L894.56,96.79 L896.26,98.89 L897.77,100.99 L899.11,103.10 L900.27,105.22 L901.26,107.34 L902.07,109.46 L902.69,111.60 L903.14,113.73 L903.41,115.86 L903.50,118.00 Z" fill="url(#bg)"/><g clip-path="url(#cin)"><path d="M908.47,220.29 L908.35,222.43 L908.06,224.57 L907.59,226.71 L906.95,228.84 L906.13,230.97 L905.13,233.09 L903.96,235.20 L902.62,237.30 L901.10,239.39 L899.40,241.47 L897.54,243.54 L895.50,245.60 L893.29,247.64 L890.91,249.67 L888.36,251.69 L885.65,253.69 L882.77,255.67 L879.72,257.63 L876.51,259.58 L873.13,261.51 L869.60,263.41 L865.90,265.30 L862.05,267.16 L858.04,269.00 L853.87,270.82 L849.56,272.61 L845.09,274.38 L840.47,276.12 L835.71,277.84 L830.80,279.52 L825.75,281.18 L820.56,282.81 L815.23,284.41 L809.77,285.98 L804.17,287.52 L798.44,289.03 L792.58,290.51 L786.60,291.95 L780.49,293.36 L774.26,294.73 L767.92,296.07 L761.46,297.38 L754.88,298.64 L748.20,299.88 L741.42,301.07 L734.52,302.23 L727.53,303.35 L720.44,304.43 L713.26,305.47 L705.99,306.47 L698.62,307.43 L691.18,308.35 L683.65,309.23 L676.04,310.07 L668.36,310.87 L660.61,311.63 L652.79,312.34 L644.90,313.01 L636.96,313.64 L628.96,314.22 L620.90,314.76 L612.79,315.26 L604.64,315.72 L596.44,316.13 L588.20,316.49 L579.92,316.81 L571.62,317.09 L563.28,317.32 L554.92,317.51 L546.54,317.65 L538.14,317.75 L529.72,317.80 L521.30,317.81 L512.87,317.77 L504.43,317.69 L496.00,317.57 L487.57,317.39 L479.14,317.18 L470.73,316.92 L462.34,316.61 L453.96,316.26 L445.61,315.86 L437.28,315.43 L428.98,314.94 L420.72,314.42 L412.49,313.85 L404.31,313.23 L396.17,312.58 L388.07,311.88 L380.03,311.14 L372.04,310.36 L364.12,309.53 L356.25,308.66 L348.45,307.76 L340.72,306.81 L333.06,305.82 L325.48,304.79 L317.97,303.73 L310.55,302.62 L303.22,301.48 L295.97,300.30 L288.81,299.08 L281.75,297.82 L274.79,296.53 L267.93,295.20 L261.18,293.84 L254.53,292.44 L247.99,291.01 L241.56,289.55 L235.25,288.05 L229.06,286.52 L222.99,284.96 L217.04,283.37 L211.23,281.75 L205.54,280.10 L199.98,278.43 L194.55,276.72 L189.26,274.99 L184.12,273.23 L179.11,271.45 L174.24,269.64 L169.52,267.81 L164.95,265.95 L160.53,264.07 L156.26,262.17 L152.14,260.25 L148.18,258.31 L144.37,256.36 L140.72,254.38 L137.24,252.39 L133.91,250.38 L130.75,248.35 L127.75,246.31 L124.92,244.26 L122.25,242.19 L119.75,240.12 L117.43,238.03 L115.27,235.93 L113.28,233.82 L111.47,231.71 L109.83,229.58 L108.36,227.45 L107.07,225.32 L105.95,223.18 L105.00,221.04 L104.24,218.89 L103.65,216.75 L103.23,214.60 L102.99,212.45 L102.93,210.31 L103.05,208.17 L103.34,206.03 L103.81,203.89 L104.45,201.76 L105.27,199.63 L106.27,197.51 L107.44,195.40 L108.78,193.30 L110.30,191.21 L112.00,189.13 L113.86,187.06 L115.90,185.00 L118.11,182.96 L120.49,180.93 L123.04,178.91 L125.75,176.91 L128.63,174.93 L131.68,172.97 L134.89,171.02 L138.27,169.09 L141.80,167.19 L145.50,165.30 L149.35,163.44 L153.36,161.60 L157.53,159.78 L161.84,157.99 L166.31,156.22 L170.93,154.48 L175.69,152.76 L180.60,151.08 L185.65,149.42 L190.84,147.79 L196.17,146.19 L201.63,144.62 L207.23,143.08 L212.96,141.57 L218.82,140.09 L224.80,138.65 L230.91,137.24 L237.14,135.87 L243.48,134.53 L249.94,133.22 L256.52,131.96 L263.20,130.72 L269.98,129.53 L276.88,128.37 L283.87,127.25 L290.96,126.17 L298.14,125.13 L305.41,124.13 L312.78,123.17 L320.22,122.25 L327.75,121.37 L335.36,120.53 L343.04,119.73 L350.79,118.97 L358.61,118.26 L366.50,117.59 L374.44,116.96 L382.44,116.38 L390.50,115.84 L398.61,115.34 L406.76,114.88 L414.96,114.47 L423.20,114.11 L431.48,113.79 L439.78,113.51 L448.12,113.28 L456.48,113.09 L464.86,112.95 L473.26,112.85 L481.68,112.80 L490.10,112.79 L498.53,112.83 L506.97,112.91 L515.40,113.03 L523.83,113.21 L532.26,113.42 L540.67,113.68 L549.06,113.99 L557.44,114.34 L565.79,114.74 L574.12,115.17 L582.42,115.66 L590.68,116.18 L598.91,116.75 L607.09,117.37 L615.23,118.02 L623.33,118.72 L631.37,119.46 L639.36,120.24 L647.28,121.07 L655.15,121.94 L662.95,122.84 L670.68,123.79 L678.34,124.78 L685.92,125.81 L693.43,126.87 L700.85,127.98 L708.18,129.12 L715.43,130.30 L722.59,131.52 L729.65,132.78 L736.61,134.07 L743.47,135.40 L750.22,136.76 L756.87,138.16 L763.41,139.59 L769.84,141.05 L776.15,142.55 L782.34,144.08 L788.41,145.64 L794.36,147.23 L800.17,148.85 L805.86,150.50 L811.42,152.17 L816.85,153.88 L822.14,155.61 L827.28,157.37 L832.29,159.15 L837.16,160.96 L841.88,162.79 L846.45,164.65 L850.87,166.53 L855.14,168.43 L859.26,170.35 L863.22,172.29 L867.03,174.24 L870.68,176.22 L874.16,178.21 L877.49,180.22 L880.65,182.25 L883.65,184.29 L886.48,186.34 L889.15,188.41 L891.65,190.48 L893.97,192.57 L896.13,194.67 L898.12,196.78 L899.93,198.89 L901.57,201.02 L903.04,203.15 L904.33,205.28 L905.45,207.42 L906.40,209.56 L907.16,211.71 L907.75,213.85 L908.17,216.00 L908.41,218.15 L908.47,220.29 Z" fill="#fff"/><g clip-path="url(#cfl)"><path d="M102.93,216.31 L103.00,214.70 L103.17,213.09 L103.44,211.49 L103.81,209.89 L104.27,208.29 L104.84,206.69 L105.50,205.10 L106.27,203.51 L107.13,201.93 L108.09,200.35 L109.15,198.78 L110.30,197.21 L111.56,195.65 L112.91,194.09 L114.36,192.54 L115.90,191.00 L117.54,189.47 L119.28,187.94 L121.11,186.42 L123.04,184.91 L125.06,183.41 L127.17,181.92 L129.38,180.44 L131.68,178.97 L134.08,177.50 L136.56,176.05 L139.14,174.62 L141.80,173.19 L144.56,171.77 L147.41,170.37 L150.34,168.98 L153.36,167.60 L156.47,166.23 L159.67,164.88 L162.95,163.54 L166.31,162.22 L169.76,160.91 L173.29,159.62 L176.90,158.34 L180.60,157.08 L184.37,155.83 L188.23,154.60 L192.16,153.38 L196.17,152.19 L200.26,151.01 L204.42,149.84 L208.65,148.70 L212.96,147.57 L217.34,146.46 L221.80,145.37 L226.32,144.30 L230.91,143.24 L235.57,142.21 L240.30,141.19 L245.09,140.20 L249.94,139.22 L254.86,138.27 L259.84,137.34 L264.88,136.42 L269.98,135.53 L275.14,134.66 L280.36,133.81 L285.63,132.98 L290.96,132.17 L296.34,131.39 L301.77,130.63 L307.25,129.89 L312.78,129.17 L318.35,128.47 L323.98,127.80 L329.65,127.15 L335.36,126.53 L341.11,125.93 L346.91,125.35 L352.74,124.79 L358.61,124.26 L364.52,123.75 L370.46,123.27 L376.44,122.81 L382.44,122.38 L388.48,121.97 L394.55,121.58 L400.64,121.22 L406.76,120.88 L412.91,120.57 L419.08,120.28 L425.27,120.02 L431.48,119.79 L437.70,119.57 L443.95,119.39 L450.21,119.23 L456.48,119.09 L462.76,118.98 L469.06,118.89 L475.36,118.83 L481.68,118.80 L487.99,118.79 L494.32,118.80 L500.64,118.84 L506.97,118.91 L513.30,119.00 L519.62,119.12 L525.94,119.26 L532.26,119.42 L538.57,119.62 L544.87,119.83 L551.16,120.07 L557.44,120.34 L563.71,120.63 L569.96,120.95 L576.20,121.29 L582.42,121.66 L588.62,122.05 L594.80,122.46 L600.96,122.90 L607.09,123.37 L613.20,123.85 L619.29,124.37 L625.34,124.90 L631.37,125.46 L637.36,126.05 L643.33,126.65 L649.26,127.28 L655.15,127.94 L661.01,128.61 L666.82,129.31 L672.60,130.03 L678.34,130.78 L684.03,131.54 L689.68,132.33 L695.29,133.14 L700.85,133.98 L706.36,134.83 L711.82,135.71 L717.23,136.60 L722.59,137.52 L727.89,138.46 L733.14,139.42 L738.33,140.40 L743.47,141.40 L748.55,142.42 L753.56,143.45 L758.52,144.51 L763.41,145.59 L768.24,146.68 L773.01,147.80 L777.71,148.93 L782.34,150.08 L786.90,151.24 L791.40,152.43 L795.82,153.63 L800.17,154.85 L804.45,156.08 L808.66,157.33 L812.79,158.60 L816.85,159.88 L820.83,161.18 L824.73,162.49 L828.55,163.81 L832.29,165.15 L835.96,166.51 L839.54,167.88 L843.03,169.26 L846.45,170.65 L849.78,172.06 L853.03,173.47 L856.19,174.90 L859.26,176.35 L862.25,177.80 L865.15,179.26 L867.96,180.74 L870.68,182.22 L873.31,183.71 L875.85,185.22 L878.30,186.73 L880.65,188.25 L882.92,189.78 L885.09,191.31 L887.16,192.86 L889.15,194.41 L891.04,195.96 L892.83,197.53 L894.53,199.10 L896.13,200.67 L897.64,202.25 L899.05,203.83 L900.36,205.42 L901.57,207.02 L902.69,208.61 L903.71,210.21 L904.63,211.81 L905.45,213.42 L906.18,215.03 L906.80,216.63 L907.33,218.24 L907.75,219.85 L908.08,221.46 L908.31,223.07 L908.44,224.68 L908.47,226.29" stroke="#000" stroke-width="14" fill="none" opacity="0.26" filter="url(#blur6)"/></g></g><g stroke="#3a32b0" stroke-width="2.4" fill="none" opacity="0.6" stroke-linecap="round" stroke-linejoin="round">
 <path d="M306,77 Q230,88 148.3,113.5"/>
 <path d="M162,94 L148.3,113.5 L160.2,125"/>
 <path d="M390,53.6 L376.8,68.2 L393.6,81.8 M376.8,68.2 L391,67.3"/>
 <path d="M784.2,96.5 Q700,74 623.9,66.8"/>
 <path d="M633.8,53.9 L623.9,66.8 L643.7,85.6"/>
 <path d="M887,132 Q870,122 845,113"/>
 <path d="M852,101 L845,113 L856,133"/>
</g><path d="M78.5,226 L78.50,113.00 L78.55,111.35 L78.71,109.70 L78.96,108.05 L79.32,106.41 L79.78,104.76 L80.35,103.12 L81.01,101.48 L81.78,99.84 L82.65,98.21 L83.62,96.57 L84.69,94.95 L85.87,93.32 L87.14,91.71 L88.52,90.09 L89.99,88.49 L91.57,86.89 L93.24,85.29 L95.02,83.71 L96.89,82.13 L98.86,80.55 L100.93,78.99 L103.09,77.43 L105.36,75.89 L107.71,74.35 L110.17,72.82 L112.71,71.30 L115.36,69.79 L118.09,68.29 L120.92,66.81 L123.84,65.33 L126.85,63.87 L129.96,62.42 L133.15,60.98 L136.43,59.55 L139.80,58.14 L143.26,56.74 L146.80,55.35 L150.43,53.98 L154.15,52.62 L157.95,51.28 L161.83,49.96 L165.80,48.64 L169.84,47.35 L173.97,46.07 L178.17,44.81 L182.45,43.56 L186.81,42.33 L191.25,41.12 L195.76,39.93 L200.34,38.75 L205.00,37.60 L209.73,36.46 L214.53,35.34 L219.39,34.24 L224.33,33.16 L229.33,32.10 L234.40,31.05 L239.53,30.03 L244.73,29.03 L249.98,28.05 L255.30,27.09 L260.67,26.16 L266.11,25.24 L271.60,24.35 L277.14,23.47 L282.74,22.62 L288.39,21.79 L294.09,20.99 L299.84,20.20 L305.64,19.44 L311.49,18.71 L317.38,17.99 L323.31,17.30 L329.29,16.64 L335.30,15.99 L341.36,15.37 L347.45,14.78 L353.59,14.21 L359.75,13.66 L365.95,13.14 L372.18,12.64 L378.44,12.17 L384.73,11.72 L391.05,11.30 L397.39,10.90 L403.75,10.53 L410.14,10.18 L416.55,9.86 L422.98,9.56 L429.42,9.29 L435.89,9.05 L442.36,8.83 L448.85,8.63 L455.35,8.47 L461.86,8.32 L468.38,8.21 L474.90,8.12 L481.43,8.05 L487.97,8.01 L494.50,8.00 L501.03,8.01 L507.57,8.05 L514.10,8.12 L520.62,8.21 L527.14,8.32 L533.65,8.47 L540.15,8.63 L546.64,8.83 L553.11,9.05 L559.58,9.29 L566.02,9.56 L572.45,9.86 L578.86,10.18 L585.25,10.53 L591.61,10.90 L597.95,11.30 L604.27,11.72 L610.56,12.17 L616.82,12.64 L623.05,13.14 L629.25,13.66 L635.41,14.21 L641.55,14.78 L647.64,15.37 L653.70,15.99 L659.71,16.64 L665.69,17.30 L671.62,17.99 L677.51,18.71 L683.36,19.44 L689.16,20.20 L694.91,20.99 L700.61,21.79 L706.26,22.62 L711.86,23.47 L717.40,24.35 L722.89,25.24 L728.33,26.16 L733.70,27.09 L739.02,28.05 L744.27,29.03 L749.47,30.03 L754.60,31.05 L759.67,32.10 L764.67,33.16 L769.61,34.24 L774.47,35.34 L779.27,36.46 L784.00,37.60 L788.66,38.75 L793.24,39.93 L797.75,41.12 L802.19,42.33 L806.55,43.56 L810.83,44.81 L815.03,46.07 L819.16,47.35 L823.20,48.64 L827.17,49.96 L831.05,51.28 L834.85,52.62 L838.57,53.98 L842.20,55.35 L845.74,56.74 L849.20,58.14 L852.57,59.55 L855.85,60.98 L859.04,62.42 L862.15,63.87 L865.16,65.33 L868.08,66.81 L870.91,68.29 L873.64,69.79 L876.29,71.30 L878.83,72.82 L881.29,74.35 L883.64,75.89 L885.91,77.43 L888.07,78.99 L890.14,80.55 L892.11,82.13 L893.98,83.71 L895.76,85.29 L897.43,86.89 L899.01,88.49 L900.48,90.09 L901.86,91.71 L903.13,93.32 L904.31,94.95 L905.38,96.57 L906.35,98.21 L907.22,99.84 L907.99,101.48 L908.65,103.12 L909.22,104.76 L909.68,106.41 L910.04,108.05 L910.29,109.70 L910.45,111.35 L910.50,113.00 L910.5,226" fill="none" stroke="#5a4fe6" stroke-width="3.3"/><path d="M78.50,113.00 L78.64,115.87 L79.07,118.73 L79.78,121.59 L80.78,124.45 L82.06,127.29 L83.62,130.13 L85.47,132.95 L87.59,135.77 L89.99,138.56 L92.67,141.34 L95.63,144.10 L98.86,146.84 L102.36,149.55 L106.13,152.24 L110.17,154.90 L114.47,157.54 L119.02,160.14 L123.84,162.71 L128.91,165.25 L134.23,167.75 L139.80,170.21 L145.61,172.64 L151.66,175.02 L157.95,177.36 L164.47,179.66 L171.21,181.91 L178.17,184.11 L185.35,186.27 L192.74,188.37 L200.34,190.43 L208.14,192.43 L216.14,194.37 L224.33,196.26 L232.70,198.10 L241.26,199.87 L249.98,201.59 L258.88,203.24 L267.93,204.83 L277.14,206.36 L286.50,207.83 L296.00,209.23 L305.64,210.57 L315.41,211.83 L325.30,213.03 L335.30,214.16 L345.42,215.23 L355.64,216.22 L365.95,217.14 L376.35,217.99 L386.83,218.77 L397.39,219.47 L408.01,220.11 L418.69,220.67 L429.42,221.15 L440.20,221.56 L451.02,221.90 L461.86,222.16 L472.73,222.35 L483.61,222.46 L494.50,222.50 L505.39,222.46 L516.27,222.35 L527.14,222.16 L537.98,221.90 L548.80,221.56 L559.58,221.15 L570.31,220.67 L580.99,220.11 L591.61,219.47 L602.17,218.77 L612.65,217.99 L623.05,217.14 L633.36,216.22 L643.58,215.23 L653.70,214.16 L663.70,213.03 L673.59,211.83 L683.36,210.57 L693.00,209.23 L702.50,207.83 L711.86,206.36 L721.07,204.83 L730.12,203.24 L739.02,201.59 L747.74,199.87 L756.30,198.10 L764.67,196.30 L772.86,194.47 L780.86,192.60 L788.66,190.69 L796.26,188.76 L803.65,186.78 L810.83,184.77 L817.79,182.73 L824.53,180.65 L831.05,178.53 L837.34,176.38 L843.39,174.19 L849.20,171.97 L854.77,169.70 L860.09,167.41 L865.16,165.07 L869.98,162.70 L874.53,160.30 L878.83,157.86 L882.87,155.38 L886.64,152.88 L890.14,150.33 L893.37,147.76 L896.33,145.15 L899.01,142.51 L901.41,139.85 L903.53,137.15 L905.38,134.43 L906.94,131.68 L908.22,128.90 L909.22,126.10 L909.93,123.28 L910.36,120.44 L910.50,117.59" fill="none" stroke="#fff" stroke-width="12"/><path d="M730.00,203.26 L738.24,201.74 L746.33,200.16 L754.28,198.53 L762.07,196.87 L769.71,195.18 L777.19,193.47 L784.50,191.72 L791.64,189.94 L798.60,188.14 L805.39,186.30 L811.99,184.44 L818.41,182.54 L824.64,180.62 L830.67,178.66 L836.51,176.67 L842.15,174.65 L847.58,172.60 L852.80,170.52 L857.82,168.40 L862.62,166.26 L867.21,164.09 L871.57,161.88 L875.72,159.65 L879.64,157.38 L883.34,155.09 L886.80,152.76 L890.04,150.41 L893.05,148.03 L895.82,145.62 L898.35,143.19 L900.65,140.73 L902.71,138.24 L904.53,135.73 L906.11,133.20 L907.45,130.64 L908.55,128.07 L909.40,125.47 L910.01,122.86 L910.38,120.23 L910.50,117.59 L910.5,226 L910.50,224.80 L910.38,227.36 L910.01,229.91 L909.40,232.46 L908.55,235.01 L907.45,237.55 L906.11,240.08 L904.53,242.60 L902.71,245.12 L900.65,247.62 L898.35,250.11 L895.82,252.58 L893.05,255.04 L890.04,257.48 L886.80,259.90 L883.34,262.30 L879.64,264.68 L875.72,267.03 L871.57,269.36 L867.21,271.66 L862.62,273.94 L857.82,276.19 L852.80,278.40 L847.58,280.59 L842.15,282.74 L836.51,284.86 L830.67,286.94 L824.64,288.99 L818.41,291.00 L811.99,292.97 L805.39,294.98 L798.60,297.00 L791.64,298.97 L784.50,300.91 L777.19,302.80 L769.71,304.65 L762.07,306.46 L754.28,308.22 L746.33,309.94 L738.24,311.61 L730.00,313.23 Z" fill="#84c140" stroke="#5a4fe6" stroke-width="3.3" stroke-linejoin="round"/>
<path d="M530.00,222.10 L535.73,221.96 L541.45,221.80 L547.16,221.62 L552.87,221.42 L558.56,221.19 L564.24,220.95 L569.90,220.69 L575.55,220.40 L581.19,220.10 L586.81,219.77 L592.41,219.42 L597.99,219.06 L603.55,218.67 L609.10,218.26 L614.62,217.84 L620.11,217.39 L625.59,216.92 L631.04,216.43 L636.46,215.93 L641.85,215.40 L647.22,214.85 L652.56,214.29 L657.86,213.70 L663.14,213.10 L668.38,212.48 L673.59,211.83 L678.77,211.17 L683.91,210.49 L689.01,209.79 L694.08,209.07 L699.11,208.34 L704.10,207.59 L709.05,206.81 L713.96,206.02 L718.83,205.22 L723.65,204.39 L728.43,203.55 L733.17,202.69 L737.86,201.81 L742.50,200.91 L742.9,187.9 L803.5,246.0 L737.2,329.8 L737.00,311.86 L732.44,312.76 L727.84,313.65 L723.20,314.52 L718.51,315.37 L713.79,316.22 L709.02,317.04 L704.22,317.85 L699.38,318.65 L694.50,319.42 L689.59,320.18 L684.64,320.84 L679.65,321.47 L674.64,322.10 L669.59,322.70 L664.51,323.29 L659.40,323.86 L654.26,324.41 L649.09,324.95 L643.89,325.46 L638.66,325.96 L633.41,326.44 L628.14,326.91 L622.84,327.35 L617.51,327.78 L612.17,328.19 L606.80,328.58 L601.42,328.96 L596.01,329.31 L590.59,329.65 L585.15,329.96 L579.69,330.26 L574.22,330.54 L568.73,330.81 L563.23,331.05 L557.72,331.27 L552.19,331.48 L546.66,331.67 L541.11,331.84 L535.56,331.98 L530.00,332.12 Z" fill="#fff" stroke="#5a4fe6" stroke-width="3.3" stroke-linejoin="round"/>
<path d="M360.00,216.62 L364.37,217.01 L368.76,217.38 L373.17,217.74 L377.59,218.09 L382.03,218.42 L386.48,218.74 L390.94,219.05 L395.41,219.35 L399.90,219.63 L404.40,219.90 L408.91,220.16 L413.43,220.40 L417.96,220.63 L422.50,220.85 L427.05,221.05 L431.61,221.24 L436.17,221.42 L440.74,221.58 L445.32,221.73 L449.91,221.87 L454.50,221.99 L459.09,222.10 L463.69,222.20 L468.30,222.28 L472.90,222.35 L477.51,222.41 L482.12,222.45 L486.73,222.48 L491.35,222.50 L495.96,222.50 L500.58,222.49 L505.19,222.46 L509.80,222.43 L514.41,222.37 L519.02,222.31 L523.62,222.23 L528.22,222.14 L532.82,222.03 L537.41,221.92 L542.00,221.78 L542.3,207.3 L601.3,280.1 L536.5,347.0 L536.80,331.95 L532.34,332.06 L527.87,332.16 L523.40,332.25 L518.93,332.32 L514.45,332.38 L509.97,332.43 L505.49,332.46 L501.01,332.49 L496.52,332.50 L492.04,332.50 L487.56,332.49 L483.07,332.46 L478.59,332.42 L474.11,332.37 L469.64,332.31 L465.16,332.24 L460.69,332.15 L456.23,332.05 L451.77,331.94 L447.31,331.82 L442.86,331.68 L438.41,331.54 L433.97,331.38 L429.54,331.21 L425.12,331.02 L420.70,330.83 L416.29,330.62 L411.89,330.40 L407.50,330.17 L403.12,329.92 L398.76,329.67 L394.40,329.40 L390.05,329.12 L385.72,328.83 L381.40,328.53 L377.09,328.21 L372.80,327.88 L368.52,327.55 L364.25,327.20 L360.00,326.83 Z" fill="#fff" stroke="#5a4fe6" stroke-width="3.3" stroke-linejoin="round"/>
<path d="M180.00,184.67 L183.79,185.81 L187.63,186.93 L191.54,188.04 L195.50,189.13 L199.52,190.21 L203.60,191.28 L207.73,192.32 L211.92,193.36 L216.15,194.38 L220.45,195.38 L224.79,196.37 L229.19,197.34 L233.64,198.30 L238.13,199.24 L242.68,200.16 L247.27,201.06 L251.91,201.95 L256.60,202.83 L261.33,203.68 L266.11,204.52 L270.93,205.34 L275.79,206.15 L280.69,206.93 L285.64,207.70 L290.62,208.45 L295.64,209.18 L300.71,209.89 L305.80,210.59 L310.94,211.26 L316.11,211.92 L321.31,212.56 L326.55,213.18 L331.81,213.78 L337.11,214.36 L342.44,214.92 L347.80,215.47 L353.19,215.99 L358.60,216.49 L364.04,216.98 L369.50,217.44 L369.9,201.9 L432.3,278.2 L364.0,345.1 L364.00,327.17 L358.70,326.72 L353.42,326.25 L348.17,325.76 L342.94,325.25 L337.75,324.72 L332.58,324.18 L327.44,323.62 L322.33,323.04 L317.25,322.44 L312.20,321.83 L307.19,321.20 L302.21,320.55 L297.26,319.89 L292.35,319.21 L287.48,318.51 L282.65,317.79 L277.85,317.06 L273.09,316.32 L268.37,315.55 L263.70,314.77 L259.06,313.98 L254.47,313.17 L249.92,312.34 L245.42,311.50 L240.96,310.64 L236.54,309.77 L232.18,308.88 L227.86,307.98 L223.58,307.06 L219.36,306.13 L215.19,305.18 L211.07,304.22 L207.00,303.25 L202.98,302.26 L199.01,301.26 L195.10,300.25 L191.24,299.22 L187.44,298.18 L183.69,297.12 L180.00,296.06 Z" fill="#fff" stroke="#5a4fe6" stroke-width="3.3" stroke-linejoin="round"/>
<path d="M78.50,113.00 L78.58,115.10 L78.81,117.21 L79.19,119.31 L79.73,121.41 L80.42,123.51 L81.26,125.60 L82.26,127.69 L83.41,129.77 L84.71,131.85 L86.16,133.92 L87.76,135.98 L89.52,138.03 L91.42,140.08 L93.47,142.11 L95.67,144.13 L98.02,146.14 L100.51,148.14 L103.15,150.13 L105.93,152.10 L108.86,154.06 L111.93,156.01 L115.14,157.93 L118.49,159.84 L121.98,161.74 L125.61,163.61 L129.37,165.47 L133.27,167.31 L137.30,169.12 L141.46,170.92 L145.76,172.70 L150.18,174.45 L154.73,176.18 L159.41,177.89 L164.21,179.57 L169.13,181.23 L174.17,182.86 L179.33,184.47 L184.61,186.05 L190.00,187.61 L195.50,189.13 L197.1,177.9 L254.5,266.0 L191.9,315.9 L191.50,299.29 L186.18,297.82 L180.96,296.34 L175.86,294.82 L170.87,293.29 L165.99,291.73 L161.23,290.14 L156.60,288.54 L152.08,286.91 L147.68,285.26 L143.41,283.59 L139.26,281.90 L135.24,280.19 L131.34,278.46 L127.58,276.71 L123.95,274.95 L120.44,273.17 L117.08,271.37 L113.84,269.55 L110.74,267.72 L107.78,265.88 L104.96,264.02 L102.27,262.15 L99.73,260.27 L97.32,258.37 L95.06,256.47 L92.93,254.55 L90.96,252.62 L89.12,250.69 L87.43,248.74 L85.89,246.79 L84.49,244.83 L83.23,242.87 L82.12,240.90 L81.16,238.92 L80.35,236.94 L79.68,234.96 L79.17,232.97 L78.80,230.98 L78.57,228.99 L78.50,227.00 Z" fill="#fff" stroke="#5a4fe6" stroke-width="3.3" stroke-linejoin="round"/>
<path d="M78.5,113 L78.5,226" stroke="#5a4fe6" stroke-width="3.3"/><path d="M910.5,113 L910.5,226" stroke="#5a4fe6" stroke-width="3.3"/>
<g font-family="Liberation Sans" font-weight="bold" fill="#5a4fe6" stroke="#5a4fe6" stroke-width="0.7">
 <text transform="translate(110.5,226.5) rotate(18.5) scale(1.15,1)" font-size="22">Activity</text>
 <text transform="translate(264,272.5) rotate(4.5) scale(1.13,1)" font-size="22">Interactions</text>
 <text transform="translate(447.5,286.5) rotate(-1) scale(1.08,1)" font-size="23">Meetings</text>
 <text transform="translate(611.5,284.5) rotate(-8.9) scale(1.13,1)" font-size="22">Opportunities</text>
 <text transform="translate(828.5,247) rotate(-18.5) scale(1.12,1)" font-size="22" font-style="italic" fill="#fff" stroke="#fff">Sales</text>
</g>
<g font-family="Liberation Sans" fill="#fff" stroke="#fff" stroke-width="0.9" font-size="25">
 <text transform="translate(443.5,57) scale(1.08,1)">Machine</text>
 <text transform="translate(443.5,85.2) scale(1.065,1)">Learning</text>
</g>
</svg>
</body></html>
